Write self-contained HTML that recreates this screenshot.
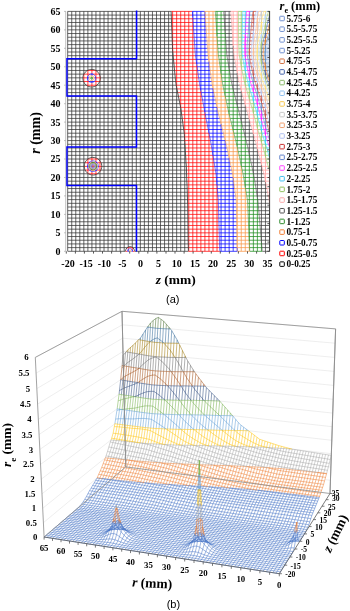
<!DOCTYPE html>
<html><head><meta charset="utf-8"><style>html,body{margin:0;padding:0;background:#fff;width:350px;height:611px;overflow:hidden}svg{display:block;filter:blur(0.35px)}</style></head>
<body><svg width="350" height="611" viewBox="0 0 350 611">
<g fill="none" stroke-width="0.75"><path stroke="#343434" d="M67.7 11.40H171.2M67.7 15.09H171.2M67.7 18.78H171.4M67.7 22.47H171.7M67.7 26.16H171.7M67.7 29.85H171.9M67.7 33.54H171.9M67.7 37.24H172.2M67.7 40.93H172.2M67.7 44.62H172.4M67.7 48.31H172.4M67.7 52.00H172.7M67.7 55.69H173.2M67.7 59.38H173.4M67.7 63.07H173.9M67.7 66.76H174.2M67.7 70.45H87.5M96.0 70.45H174.7M67.7 74.14H84.0M99.5 74.14H174.9M67.7 77.83H83.0M100.5 77.83H175.4M67.7 81.52H83.7M100.0 81.52H175.7M67.7 85.22H86.5M97.0 85.22H176.2M67.7 88.91H176.9M67.7 92.60H177.7M67.7 96.29H178.4M67.7 99.98H179.2M67.7 103.67H179.9M67.7 107.36H180.7M67.7 111.05H181.2M67.7 114.74H181.7M67.7 118.43H182.2M67.7 122.12H182.7M67.7 125.81H183.2M67.7 129.50H183.7M67.7 133.20H184.2M67.7 136.89H184.4M67.7 140.58H184.7M67.7 144.27H184.9M67.7 147.96H185.2M67.7 151.65H185.4M67.7 155.34H185.7M67.7 159.03H88.0M98.2 159.03H185.9M67.7 162.72H85.0M101.2 162.72H186.2M67.7 166.41H84.5M102.0 166.41H186.4M67.7 170.10H85.2M101.0 170.10H186.4M67.7 173.79H88.7M97.7 173.79H186.7M67.7 177.48H186.7M67.7 181.18H186.9M67.7 184.87H186.9M67.7 188.56H187.2M67.7 192.25H187.4M67.7 195.94H187.4M67.7 199.63H187.7M67.7 203.32H187.7M67.7 207.01H187.7M67.7 210.70H187.7M67.7 214.39H187.9M67.7 218.08H187.9M67.7 221.77H187.9M67.7 225.46H187.9M67.7 229.16H187.9M67.7 232.85H188.2M67.7 236.54H188.2M67.7 240.23H188.2M67.7 243.92H188.2M67.7 247.61H127.5M132.7 247.61H188.4M67.7 251.30H125.5M134.7 251.30H188.4M67.70 11.4V251.2M71.74 11.4V251.2M75.77 11.4V251.2M79.81 11.4V251.2M83.84 11.4V74.2M83.84 82.4V251.2M87.88 11.4V70.4M87.88 86.4V159.2M87.88 173.4V251.2M91.92 11.4V69.7M91.92 87.2V157.7M91.92 175.2V251.2M95.95 11.4V70.7M95.95 85.9V157.9M95.95 174.7V251.2M99.99 11.4V75.9M99.99 80.9V160.9M99.99 171.7V251.2M104.02 11.4V251.2M108.06 11.4V251.2M112.10 11.4V251.2M116.13 11.4V251.2M120.17 11.4V251.2M124.20 11.4V251.2M128.24 11.4V247.2M132.28 11.4V247.4M136.31 11.4V251.2M140.35 11.4V251.2M144.38 11.4V251.2M148.42 11.4V251.2M152.46 11.4V251.2M156.49 11.4V251.2M160.53 11.4V251.2M164.56 11.4V251.2M168.60 11.4V251.2M172.64 51.4V251.2M176.67 87.9V251.2M180.71 108.2V251.2M184.74 142.4V251.2"/><path stroke="#FF0000" d="M171.2 11.40H192.4M171.2 15.09H192.7M171.4 18.78H192.9M171.7 22.47H193.2M171.7 26.16H193.4M171.9 29.85H193.7M171.9 33.54H193.9M172.2 37.24H194.4M172.2 40.93H194.7M172.4 44.62H194.9M172.4 48.31H195.2M172.7 52.00H195.4M173.2 55.69H195.7M173.4 59.38H196.2M173.9 63.07H196.7M174.2 66.76H197.2M87.5 70.45H96.0M174.7 70.45H197.9M84.0 74.14H90.5M93.0 74.14H99.5M174.9 74.14H198.4M83.0 77.83H87.5M96.0 77.83H100.5M175.4 77.83H198.9M83.7 81.52H89.0M94.5 81.52H100.0M175.7 81.52H199.4M86.5 85.22H97.0M176.2 85.22H199.9M176.9 88.91H200.7M177.7 92.60H201.4M178.4 96.29H202.2M179.2 99.98H202.7M179.9 103.67H203.4M180.7 107.36H204.2M181.2 111.05H204.9M181.7 114.74H205.4M182.2 118.43H206.2M182.7 122.12H206.9M183.2 125.81H207.7M183.7 129.50H208.4M184.2 133.20H209.2M184.4 136.89H209.9M184.7 140.58H210.7M184.9 144.27H211.2M185.2 147.96H211.9M185.4 151.65H212.4M185.7 155.34H213.2M88.0 159.03H98.2M185.9 159.03H213.7M85.0 162.72H89.0M97.2 162.72H101.2M186.2 162.72H214.4M84.5 166.41H87.7M98.5 166.41H102.0M186.4 166.41H214.9M85.2 170.10H89.5M97.0 170.10H101.0M186.4 170.10H215.4M88.7 173.79H97.7M186.7 173.79H216.2M186.7 177.48H216.7M186.9 181.18H216.9M186.9 184.87H217.2M187.2 188.56H217.4M187.4 192.25H217.7M187.4 195.94H217.9M187.7 199.63H218.4M187.7 203.32H218.4M187.7 207.01H218.7M187.7 210.70H218.7M187.9 214.39H218.9M187.9 218.08H218.9M187.9 221.77H218.9M187.9 225.46H219.2M187.9 229.16H219.2M188.2 232.85H219.4M188.2 236.54H219.4M188.2 240.23H219.7M188.2 243.92H219.7M127.5 247.61H132.7M188.4 247.61H219.7M125.5 251.30H127.5M132.7 251.30H134.7M188.4 251.30H219.9M83.84 74.2V82.4M87.88 70.4V76.4M87.88 80.4V86.4M87.88 159.2V164.7M87.88 167.9V173.4M91.92 69.7V74.2M91.92 82.7V87.2M91.92 157.7V161.2M91.92 171.7V175.2M95.95 70.7V85.9M95.95 157.9V161.9M95.95 170.9V174.7M99.99 75.9V80.9M99.99 160.9V171.7M128.24 247.2V249.4M132.28 247.4V250.2M172.64 11.4V51.4M176.67 11.4V87.9M180.71 11.4V108.2M184.74 11.4V142.4M188.78 11.4V251.2M192.82 17.4V251.2M196.85 64.4V251.2M200.89 90.7V251.2M204.92 112.2V251.2M208.96 132.9V251.2M213.00 155.4V251.2M217.03 184.7V251.2"/><path stroke="#0000FF" d="M192.4 11.40H204.9M192.7 15.09H205.2M192.9 18.78H205.4M193.2 22.47H205.9M193.4 26.16H206.2M193.7 29.85H206.4M193.9 33.54H206.7M194.4 37.24H206.9M194.7 40.93H207.2M194.9 44.62H207.4M195.2 48.31H207.7M195.4 52.00H207.9M195.7 55.69H208.2M196.2 59.38H208.7M196.7 63.07H209.4M197.2 66.76H209.9M197.9 70.45H210.4M90.5 74.14H93.0M198.4 74.14H210.9M87.5 77.83H89.2M94.2 77.83H96.0M198.9 77.83H211.4M89.0 81.52H94.5M199.4 81.52H211.9M199.9 85.22H212.4M200.7 88.91H213.2M201.4 92.60H214.2M202.2 96.29H214.9M202.7 99.98H215.7M203.4 103.67H216.4M204.2 107.36H217.2M204.9 111.05H217.9M205.4 114.74H218.9M206.2 118.43H219.9M206.9 122.12H220.7M207.7 125.81H221.7M208.4 129.50H222.7M209.2 133.20H223.7M209.9 136.89H224.4M210.7 140.58H225.4M211.2 144.27H226.4M211.9 147.96H227.2M212.4 151.65H227.9M213.2 155.34H228.7M213.7 159.03H229.4M89.0 162.72H90.5M95.7 162.72H97.2M214.4 162.72H230.4M87.7 166.41H88.7M97.5 166.41H98.5M214.9 166.41H231.2M89.5 170.10H91.2M95.2 170.10H97.0M215.4 170.10H231.9M216.2 173.79H232.7M216.7 177.48H233.2M216.9 181.18H233.7M217.2 184.87H234.2M217.4 188.56H234.7M217.7 192.25H235.2M217.9 195.94H235.7M218.4 199.63H236.2M218.4 203.32H236.4M218.7 207.01H236.4M218.7 210.70H236.7M218.9 214.39H236.7M218.9 218.08H236.7M218.9 221.77H236.9M219.2 225.46H236.9M219.2 229.16H236.9M219.4 232.85H236.9M219.4 236.54H237.2M219.7 240.23H237.2M219.7 243.92H237.2M219.7 247.61H237.4M127.5 251.30H128.9M131.4 251.30H132.7M219.9 251.30H237.4M87.88 76.4V80.4M87.88 164.7V167.9M91.92 74.2V75.7M91.92 80.9V82.7M91.92 161.2V162.2M91.92 170.7V171.7M95.95 161.9V163.2M95.95 169.7V170.9M128.24 249.4V251.2M132.28 250.2V251.2M192.82 11.4V17.4M196.85 11.4V64.4M200.89 11.4V90.7M204.92 11.9V112.2M208.96 61.4V132.9M213.00 88.2V155.4M217.03 106.9V184.7M221.07 123.9V251.2M225.10 139.9V251.2M229.14 157.7V251.2M233.18 177.7V251.2M237.21 247.7V251.2"/><path stroke="#F79646" d="M204.9 11.40H215.4M205.2 15.09H215.7M205.4 18.78H215.9M205.9 22.47H216.2M206.2 26.16H216.4M206.4 29.85H216.7M206.7 33.54H216.9M206.9 37.24H217.2M207.2 40.93H217.4M207.4 44.62H217.7M207.7 48.31H217.9M207.9 52.00H218.2M208.2 55.69H218.7M208.7 59.38H219.2M209.4 63.07H219.7M209.9 66.76H220.2M210.4 70.45H220.7M210.9 74.14H221.2M89.2 77.83H90.7M92.7 77.83H94.2M211.4 77.83H221.7M211.9 81.52H222.4M212.4 85.22H222.9M213.2 88.91H223.7M214.2 92.60H224.7M214.9 96.29H225.4M215.7 99.98H226.2M216.4 103.67H226.9M217.2 107.36H227.7M217.9 111.05H228.4M218.9 114.74H229.4M219.9 118.43H230.4M220.7 122.12H231.2M221.7 125.81H232.2M222.7 129.50H233.2M223.7 133.20H233.9M224.4 136.89H234.9M225.4 140.58H235.9M226.4 144.27H236.7M227.2 147.96H237.7M227.9 151.65H238.4M228.7 155.34H239.2M229.4 159.03H239.9M90.5 162.72H91.7M94.7 162.72H95.7M230.4 162.72H240.7M88.7 166.41H89.5M97.0 166.41H97.5M231.2 166.41H241.4M91.2 170.10H95.2M231.9 170.10H242.2M232.7 173.79H243.2M233.2 177.48H243.7M233.7 181.18H244.4M234.2 184.87H244.9M234.7 188.56H245.7M235.2 192.25H246.2M235.7 195.94H246.9M236.2 199.63H247.4M236.4 203.32H247.7M236.4 207.01H247.9M236.7 210.70H248.2M236.7 214.39H248.2M236.7 218.08H248.4M236.9 221.77H248.7M236.9 225.46H248.7M236.9 229.16H248.9M236.9 232.85H248.9M237.2 236.54H249.2M237.2 240.23H249.4M237.2 243.92H249.4M237.4 247.61H249.7M128.9 251.30H131.4M237.4 251.30H249.9M91.92 75.7V77.4M91.92 79.4V80.9M91.92 162.2V162.7M91.92 169.9V170.7M95.95 163.2V163.9M95.95 168.7V169.7M204.92 11.4V11.9M208.96 11.4V61.4M213.00 11.4V88.2M217.03 36.4V106.9M221.07 73.7V123.9M225.10 95.7V139.9M229.14 114.2V157.7M233.18 130.4V177.7M237.21 146.7V247.7M241.25 165.9V251.2M245.28 187.4V251.2M249.32 241.4V251.2"/><path stroke="#1E8C1E" d="M215.4 11.40H223.7M215.7 15.09H224.2M215.9 18.78H224.4M216.2 22.47H224.7M216.4 26.16H224.9M216.7 29.85H225.2M216.9 33.54H225.4M217.2 37.24H225.7M217.4 40.93H225.9M217.7 44.62H226.2M217.9 48.31H226.4M218.2 52.00H226.7M218.7 55.69H226.9M219.2 59.38H227.7M219.7 63.07H228.4M220.2 66.76H228.9M220.7 70.45H229.7M221.2 74.14H230.2M90.7 77.83H92.7M221.7 77.83H230.9M222.4 81.52H231.4M222.9 85.22H232.2M223.7 88.91H233.2M224.7 92.60H234.2M225.4 96.29H235.2M226.2 99.98H235.9M226.9 103.67H236.9M227.7 107.36H237.9M228.4 111.05H238.9M229.4 114.74H239.9M230.4 118.43H240.7M231.2 122.12H241.7M232.2 125.81H242.7M233.2 129.50H243.4M233.9 133.20H244.4M234.9 136.89H245.4M235.9 140.58H246.2M236.7 144.27H247.2M237.7 147.96H247.9M238.4 151.65H248.9M239.2 155.34H249.7M239.9 159.03H250.4M91.7 162.72H94.7M240.7 162.72H251.2M89.5 166.41H90.0M96.5 166.41H97.0M241.4 166.41H251.9M242.2 170.10H252.7M243.2 173.79H253.7M243.7 177.48H254.2M244.4 181.18H254.9M244.9 184.87H255.4M245.7 188.56H256.2M246.2 192.25H256.7M246.9 195.94H257.2M247.4 199.63H257.9M247.7 203.32H258.2M247.9 207.01H258.7M248.2 210.70H258.9M248.2 214.39H259.2M248.4 218.08H259.4M248.7 221.77H259.9M248.7 225.46H260.2M248.9 229.16H260.4M248.9 232.85H260.7M249.2 236.54H261.2M249.4 240.23H261.4M249.4 243.92H261.7M249.7 247.61H261.9M249.9 251.30H262.4M91.92 77.4V79.4M91.92 162.7V163.2M91.92 169.4V169.9M95.95 163.9V164.9M95.95 167.9V168.7M217.03 11.4V36.4M221.07 11.4V73.7M225.10 31.6V95.7M229.14 68.7V114.2M233.18 89.4V130.4M237.21 105.2V146.7M241.25 121.2V165.9M245.28 137.2V187.4M249.32 154.7V241.4M253.36 173.4V251.2M257.39 197.4V251.2M261.43 241.9V251.2"/><path stroke="#3C3C3C" d="M223.7 11.40H230.9M224.2 15.09H231.2M224.4 18.78H231.4M224.7 22.47H231.7M224.9 26.16H231.9M225.2 29.85H232.2M225.4 33.54H232.4M225.7 37.24H232.7M225.9 40.93H232.9M226.2 44.62H233.2M226.4 48.31H233.4M226.7 52.00H233.7M226.9 55.69H234.2M227.7 59.38H234.9M228.4 63.07H235.4M228.9 66.76H236.2M229.7 70.45H236.9M230.2 74.14H237.7M230.9 77.83H238.2M231.4 81.52H238.9M232.2 85.22H239.7M233.2 88.91H240.9M234.2 92.60H241.9M235.2 96.29H242.9M235.9 99.98H243.9M236.9 103.67H244.9M237.9 107.36H246.2M238.9 111.05H247.2M239.9 114.74H248.2M240.7 118.43H249.2M241.7 122.12H250.2M242.7 125.81H251.2M243.4 129.50H252.2M244.4 133.20H253.2M245.4 136.89H254.2M246.2 140.58H255.4M247.2 144.27H256.4M247.9 147.96H257.2M248.9 151.65H258.2M249.7 155.34H259.2M250.4 159.03H260.2M251.2 162.72H261.2M90.0 166.41H90.2M96.0 166.41H96.5M251.9 166.41H261.9M252.7 170.10H262.9M253.7 173.79H263.9M254.2 177.48H264.7M254.9 181.18H265.4M255.4 184.87H266.2M256.2 188.56H266.9M256.7 192.25H267.7M257.2 195.94H268.4M257.9 199.63H269.2M258.2 203.32H269.4M258.7 207.01H269.4M258.9 210.70H269.4M259.2 214.39H269.4M259.4 218.08H269.4M259.9 221.77H269.4M260.2 225.46H269.4M260.4 229.16H269.4M260.7 232.85H269.4M261.2 236.54H269.4M261.4 240.23H269.4M261.7 243.92H269.4M261.9 247.61H269.4M262.4 251.30H269.4M91.92 163.2V163.7M91.92 168.9V169.4M95.95 164.9V167.9M225.10 11.4V31.6M229.14 11.4V68.7M233.18 45.9V89.4M237.21 72.9V105.2M241.25 90.9V121.2M245.28 105.2V137.2M249.32 119.4V154.7M253.36 133.9V173.4M257.39 148.9V197.4M261.43 164.7V241.9M265.46 181.9V251.2M269.50 206.2V251.2"/><path stroke="#FF9999" d="M230.9 11.40H238.4M231.2 15.09H238.4M231.4 18.78H238.4M231.7 22.47H238.4M231.9 26.16H238.7M232.2 29.85H238.7M232.4 33.54H238.7M232.7 37.24H238.7M232.9 40.93H238.7M233.2 44.62H238.9M233.4 48.31H238.9M233.7 52.00H239.2M234.2 55.69H239.4M234.9 59.38H240.2M235.4 63.07H240.7M236.2 66.76H241.4M236.9 70.45H242.2M237.7 74.14H242.9M238.2 77.83H243.7M238.9 81.52H244.4M239.7 85.22H245.4M240.9 88.91H246.4M241.9 92.60H247.7M242.9 96.29H248.7M243.9 99.98H249.7M244.9 103.67H250.9M246.2 107.36H251.9M247.2 111.05H252.9M248.2 114.74H253.9M249.2 118.43H254.9M250.2 122.12H255.9M251.2 125.81H256.9M252.2 129.50H257.9M253.2 133.20H258.9M254.2 136.89H259.9M255.4 140.58H260.9M256.4 144.27H262.2M257.2 147.96H263.4M258.2 151.65H264.4M259.2 155.34H265.2M260.2 159.03H266.2M261.2 162.72H267.2M90.2 166.41H90.7M95.7 166.41H96.0M261.9 166.41H268.4M262.9 170.10H269.4M263.9 173.79H269.4M264.7 177.48H269.4M265.4 181.18H269.4M266.2 184.87H269.4M266.9 188.56H269.4M267.7 192.25H269.4M268.4 195.94H269.4M269.2 199.63H269.4M269.4 203.32H269.4M91.92 163.7V164.2M91.92 168.7V168.9M233.18 11.4V45.9M237.21 11.4V72.9M241.25 66.4V90.9M245.28 85.2V105.2M249.32 98.9V119.4M253.36 113.2V133.9M257.39 128.2V148.9M261.43 142.4V164.7M265.46 156.7V181.9M269.50 170.2V206.2"/><path stroke="#8CC45A" d="M238.4 11.40H242.9M238.4 15.09H242.7M238.4 18.78H242.7M238.4 22.47H242.4M238.7 26.16H242.4M238.7 29.85H242.4M238.7 33.54H242.4M238.7 37.24H242.2M238.7 40.93H242.2M238.9 44.62H242.2M238.9 48.31H242.2M239.2 52.00H242.2M239.4 55.69H242.4M240.2 59.38H243.2M240.7 63.07H243.7M241.4 66.76H244.4M242.2 70.45H245.2M242.9 74.14H245.9M243.7 77.83H246.7M244.4 81.52H247.7M245.4 85.22H248.7M246.4 88.91H249.9M247.7 92.60H250.9M248.7 96.29H252.2M249.7 99.98H253.2M250.9 103.67H254.2M251.9 107.36H255.2M252.9 111.05H256.4M253.9 114.74H257.2M254.9 118.43H258.2M255.9 122.12H259.2M256.9 125.81H260.2M257.9 129.50H261.2M258.9 133.20H262.2M259.9 136.89H263.2M260.9 140.58H264.4M262.2 144.27H265.7M263.4 147.96H266.9M264.4 151.65H267.9M265.2 155.34H268.9M266.2 159.03H269.4M267.2 162.72H269.4M90.7 166.41H91.0M95.2 166.41H95.7M268.4 166.41H269.4M91.92 164.2V164.4M91.92 168.2V168.7M241.25 11.4V66.4M245.28 71.4V85.2M249.32 87.4V98.9M253.36 101.2V113.2M257.39 115.7V128.2M261.43 130.9V142.4M265.46 144.2V156.7M269.50 158.4V170.2"/><path stroke="#1EC8F0" d="M242.9 11.40H246.7M242.7 15.09H246.4M242.7 18.78H246.2M242.4 22.47H245.9M242.4 26.16H245.7M242.4 29.85H245.7M242.4 33.54H245.4M242.2 37.24H245.2M242.2 40.93H244.9M242.2 44.62H244.9M242.2 48.31H244.9M242.2 52.00H244.9M242.4 55.69H245.2M243.2 59.38H245.7M243.7 63.07H246.4M244.4 66.76H246.9M245.2 70.45H247.7M245.9 74.14H248.7M246.7 77.83H249.4M247.7 81.52H250.4M248.7 85.22H251.4M249.9 88.91H252.7M250.9 92.60H253.7M252.2 96.29H254.9M253.2 99.98H255.9M254.2 103.67H257.2M255.2 107.36H258.2M256.4 111.05H259.2M257.2 114.74H260.2M258.2 118.43H260.9M259.2 122.12H261.9M260.2 125.81H262.9M261.2 129.50H263.9M262.2 133.20H264.9M263.2 136.89H266.2M264.4 140.58H267.2M265.7 144.27H268.4M266.9 147.96H269.4M267.9 151.65H269.4M268.9 155.34H269.4M91.0 166.41H91.5M95.0 166.41H95.2M91.92 164.4V164.9M91.92 167.7V168.2M245.28 11.4V35.1M245.28 57.4V71.4M249.32 77.9V87.4M253.36 91.7V101.2M257.39 105.2V115.7M261.43 120.4V130.9M265.46 135.4V144.2M269.50 147.4V158.4"/><path stroke="#FF00FF" d="M246.7 11.40H250.2M246.4 15.09H249.7M246.2 18.78H249.2M245.9 22.47H248.9M245.7 26.16H248.7M245.7 29.85H248.4M245.4 33.54H248.2M245.2 37.24H247.9M244.9 40.93H247.7M244.9 44.62H247.4M244.9 48.31H247.2M244.9 52.00H247.2M245.2 55.69H247.4M245.7 59.38H247.9M246.4 63.07H248.7M246.9 66.76H249.4M247.7 70.45H250.2M248.7 74.14H250.9M249.4 77.83H251.7M250.4 81.52H252.9M251.4 85.22H253.9M252.7 88.91H255.2M253.7 92.60H256.4M254.9 96.29H257.4M255.9 99.98H258.7M257.2 103.67H259.7M258.2 107.36H260.7M259.2 111.05H261.7M260.2 114.74H262.7M260.9 118.43H263.4M261.9 122.12H264.4M262.9 125.81H265.4M263.9 129.50H266.4M264.9 133.20H267.4M266.2 136.89H268.7M267.2 140.58H269.4M268.4 144.27H269.4M91.5 166.41H91.7M94.5 166.41H95.0M91.92 164.9V165.4M91.92 167.2V167.7M245.28 35.1V57.4M249.32 11.4V16.9M249.32 67.4V77.9M253.36 83.9V91.7M257.39 96.4V105.2M261.43 110.4V120.4M265.46 126.7V135.4M269.50 140.2V147.4"/><path stroke="#4F81BD" d="M250.2 11.40H253.2M249.7 15.09H252.7M249.2 18.78H252.2M248.9 22.47H251.7M248.7 26.16H251.4M248.4 29.85H251.2M248.2 33.54H250.9M247.9 37.24H250.4M247.7 40.93H249.9M247.4 44.62H249.7M247.2 48.31H249.4M247.2 52.00H249.4M247.4 55.69H249.7M247.9 59.38H250.2M248.7 63.07H250.7M249.4 66.76H251.4M250.2 70.45H252.2M250.9 74.14H253.2M251.7 77.83H253.9M252.9 81.52H254.9M253.9 85.22H256.2M255.2 88.91H257.4M256.4 92.60H258.7M257.4 96.29H259.9M258.7 99.98H260.9M259.7 103.67H261.9M260.7 107.36H262.9M261.7 111.05H263.9M262.7 114.74H264.9M263.4 118.43H265.9M264.4 122.12H266.7M265.4 125.81H267.7M266.4 129.50H268.7M267.4 133.20H269.4M268.7 136.89H269.4M91.7 166.41H92.2M94.0 166.41H94.5M91.92 165.4V167.2M249.32 16.9V48.9M249.32 54.9V67.4M253.36 75.9V83.9M257.39 89.2V96.4M261.43 102.4V110.4M265.46 117.4V126.7M269.50 132.9V140.2"/><path stroke="#C0392B" d="M253.2 11.40H256.2M252.7 15.09H255.4M252.2 18.78H254.9M251.7 22.47H254.4M251.4 26.16H253.9M251.2 29.85H253.7M250.9 33.54H253.2M250.4 37.24H252.7M249.9 40.93H252.2M249.7 44.62H251.7M249.4 48.31H251.4M249.4 52.00H251.4M249.7 55.69H251.7M250.2 59.38H252.2M250.7 63.07H252.7M251.4 66.76H253.4M252.2 70.45H254.2M253.2 74.14H255.2M253.9 77.83H255.9M254.9 81.52H257.2M256.2 85.22H258.4M257.4 88.91H259.7M258.7 92.60H260.7M259.9 96.29H261.9M260.9 99.98H263.2M261.9 103.67H264.2M262.9 107.36H265.2M263.9 111.05H266.2M264.9 114.74H267.2M265.9 118.43H267.9M266.7 122.12H268.9M267.7 125.81H269.4M268.7 129.50H269.4M92.2 166.41H94.0M249.32 48.9V54.9M253.36 11.4V30.9M253.36 67.2V75.9M257.39 82.9V89.2M261.43 94.9V102.4M265.46 108.7V117.4M269.50 125.2V132.9"/><path stroke="#A8B8E8" d="M256.2 11.40H258.9M255.4 15.09H257.9M254.9 18.78H257.4M254.4 22.47H256.9M253.9 26.16H256.4M253.7 29.85H255.9M253.2 33.54H255.4M252.7 37.24H254.7M252.2 40.93H254.2M251.7 44.62H253.7M251.4 48.31H253.4M251.4 52.00H253.2M251.7 55.69H253.4M252.2 59.38H253.9M252.7 63.07H254.7M253.4 66.76H255.2M254.2 70.45H255.9M255.2 74.14H256.9M255.9 77.83H257.9M257.2 81.52H259.2M258.4 85.22H260.4M259.7 88.91H261.7M260.7 92.60H262.9M261.9 96.29H264.2M263.2 99.98H265.2M264.2 103.67H266.2M265.2 107.36H267.4M266.2 111.05H268.2M267.2 114.74H269.2M267.9 118.43H269.4M268.9 122.12H269.4M253.36 30.9V48.1M253.36 55.9V67.2M257.39 11.4V17.9M257.39 76.4V82.9M261.43 88.7V94.9M265.46 101.7V108.7M269.50 116.7V125.2"/><path stroke="#FAB080" d="M258.9 11.40H261.4M257.9 15.09H260.4M257.4 18.78H259.7M256.9 22.47H259.2M256.4 26.16H258.7M255.9 29.85H258.2M255.4 33.54H257.7M254.7 37.24H256.9M254.2 40.93H256.2M253.7 44.62H255.7M253.4 48.31H255.4M253.2 52.00H255.2M253.4 55.69H255.2M253.9 59.38H255.7M254.7 63.07H256.4M255.2 66.76H257.2M255.9 70.45H257.9M256.9 74.14H258.7M257.9 77.83H259.7M259.2 81.52H260.9M260.4 85.22H262.2M261.7 88.91H263.7M262.9 92.60H264.7M264.2 96.29H265.9M265.2 99.98H267.2M266.2 103.67H268.2M267.4 107.36H269.2M268.2 111.05H269.4M269.2 114.74H269.4M253.36 48.1V55.9M257.39 17.9V34.1M257.39 69.2V76.4M261.43 83.4V88.7M265.46 95.2V101.7M269.50 108.7V116.7"/><path stroke="#C0C0C0" d="M261.4 11.40H263.9M260.4 15.09H262.9M259.7 18.78H262.2M259.2 22.47H261.4M258.7 26.16H260.9M258.2 29.85H260.2M257.7 33.54H259.7M256.9 37.24H258.7M256.2 40.93H257.9M255.7 44.62H257.4M255.4 48.31H257.2M255.2 52.00H256.9M255.2 55.69H256.9M255.7 59.38H257.4M256.4 63.07H258.2M257.2 66.76H258.7M257.9 70.45H259.4M258.7 74.14H260.4M259.7 77.83H261.4M260.9 81.52H262.7M262.2 85.22H264.2M263.7 88.91H265.4M264.7 92.60H266.7M265.9 96.29H267.9M267.2 99.98H268.9M268.2 103.67H269.4M269.2 107.36H269.4M257.39 34.1V44.6M257.39 59.9V69.2M261.43 11.4V22.1M261.43 77.9V83.4M265.46 89.4V95.2M269.50 102.2V108.7"/><path stroke="#FFD966" d="M263.9 11.40H266.4M262.9 15.09H265.2M262.2 18.78H264.4M261.4 22.47H263.7M260.9 26.16H262.9M260.2 29.85H262.2M259.7 33.54H261.7M258.7 37.24H260.7M257.9 40.93H259.9M257.4 44.62H259.2M257.2 48.31H258.9M256.9 52.00H258.4M256.9 55.69H258.7M257.4 59.38H259.2M258.2 63.07H259.7M258.7 66.76H260.4M259.4 70.45H261.2M260.4 74.14H262.2M261.4 77.83H263.2M262.7 81.52H264.4M264.2 85.22H265.9M265.4 88.91H267.2M266.7 92.60H268.4M267.9 96.29H269.4M268.9 99.98H269.4M257.39 44.6V59.9M261.43 22.1V34.1M261.43 71.9V77.9M265.46 11.4V14.2M265.46 84.4V89.4M269.50 96.2V102.2"/><path stroke="#A6CAF0" d="M266.4 11.40H268.7M265.2 15.09H267.4M264.4 18.78H266.4M263.7 22.47H265.7M262.9 26.16H264.9M262.2 29.85H264.2M261.7 33.54H263.4M260.7 37.24H262.4M259.9 40.93H261.7M259.2 44.62H260.9M258.9 48.31H260.4M258.4 52.00H260.2M258.7 55.69H260.2M259.2 59.38H260.7M259.7 63.07H261.2M260.4 66.76H261.9M261.2 70.45H262.7M262.2 74.14H263.7M263.2 77.83H264.9M264.4 81.52H266.2M265.9 85.22H267.7M267.2 88.91H268.9M268.4 92.60H269.4M261.43 34.1V41.6M261.43 64.4V71.9M265.46 14.2V23.4M265.46 79.9V84.4M269.50 90.9V96.2"/><path stroke="#9BBB59" d="M268.7 11.40H269.4M267.4 15.09H269.4M266.4 18.78H268.7M265.7 22.47H267.7M264.9 26.16H266.9M264.2 29.85H266.2M263.4 33.54H265.4M262.4 37.24H264.4M261.7 40.93H263.4M260.9 44.62H262.7M260.4 48.31H262.2M260.2 52.00H261.7M260.2 55.69H261.7M260.7 59.38H262.2M261.2 63.07H262.9M261.9 66.76H263.4M262.7 70.45H264.2M263.7 74.14H265.4M264.9 77.83H266.4M266.2 81.52H267.7M267.7 85.22H269.2M268.9 88.91H269.4M261.43 41.6V64.4M265.46 23.4V32.9M265.46 75.2V79.9M269.50 11.4V15.4M269.50 86.2V90.9"/><path stroke="#2F4F9F" d="M268.7 18.78H269.4M267.7 22.47H269.4M266.9 26.16H268.9M266.2 29.85H267.9M265.4 33.54H267.2M264.4 37.24H265.9M263.4 40.93H264.9M262.7 44.62H264.2M262.2 48.31H263.7M261.7 52.00H263.2M261.7 55.69H263.2M262.2 59.38H263.7M262.9 63.07H264.4M263.4 66.76H264.9M264.2 70.45H265.9M265.4 74.14H266.9M266.4 77.83H267.9M267.7 81.52H269.4M269.2 85.22H269.4M265.46 32.9V38.9M265.46 69.7V75.2M269.50 15.4V23.1M269.50 82.2V86.2"/><path stroke="#E46C0A" d="M268.9 26.16H269.4M267.9 29.85H269.4M267.2 33.54H268.9M265.9 37.24H267.7M264.9 40.93H266.7M264.2 44.62H265.7M263.7 48.31H265.2M263.2 52.00H264.7M263.2 55.69H264.7M263.7 59.38H265.2M264.4 63.07H265.7M264.9 66.76H266.4M265.9 70.45H267.2M266.9 74.14H268.4M267.9 77.83H269.4M269.4 81.52H269.4M265.46 38.9V45.6M265.46 62.1V69.7M269.50 23.1V30.9M269.50 78.2V82.2"/><path stroke="#4F81BD" d="M268.9 33.54H269.4M267.7 37.24H269.4M266.7 40.93H268.2M265.7 44.62H267.4M265.2 48.31H266.7M264.7 52.00H266.2M264.7 55.69H266.2M265.2 59.38H266.7M265.7 63.07H267.2M266.4 66.76H267.9M267.2 70.45H268.7M268.4 74.14H269.4M269.4 77.83H269.4M265.46 45.6V62.1M269.50 30.9V36.6M269.50 73.7V78.2"/><path stroke="#95B3D7" d="M269.4 37.24H269.4M268.2 40.93H269.4M267.4 44.62H268.9M266.7 48.31H268.2M266.2 52.00H267.7M266.2 55.69H267.7M266.7 59.38H267.9M267.2 63.07H268.7M267.9 66.76H269.4M268.7 70.45H269.4M269.50 36.6V41.6M269.50 68.4V73.7"/><path stroke="#8EA9DB" d="M268.9 44.62H269.4M268.2 48.31H269.4M267.7 52.00H268.9M267.7 55.69H268.9M267.9 59.38H269.4M268.7 63.07H269.4M269.4 66.76H269.4M269.50 41.6V48.1M269.50 61.4V68.4"/><path stroke="#7F9FCF" d="M268.9 52.00H269.4M268.9 55.69H269.4M269.4 59.38H269.4M269.50 48.1V61.4"/></g><g fill="none" stroke-width="0.5"><path stroke="#343434" stroke-width="0.8" d="M171.1 11.4L172.6 49.9 175.5 80.4 176.2 85.4 180.9 108.7 184.3 133.9 186.0 162.1 186.4 166.8 186.7 178.1 187.1 186.4 187.7 206.0 188.1 239.0 188.4 250.8M90.8 69.4L89.4 69.7 88.0 70.2 86.6 71.0 85.1 72.3 84.1 73.7 83.4 75.1 83.0 76.5 82.9 78.6 83.2 80.7 83.8 82.1 84.6 83.5 85.9 84.9 87.3 85.9 88.7 86.5 90.1 86.9 92.2 87.0 94.3 86.6 95.7 86.0 97.1 85.0 98.5 83.6 99.4 82.1 100.0 80.7 100.3 79.3 100.3 77.2 99.9 75.4 99.2 73.8 98.1 72.3 97.1 71.4 95.7 70.4 94.3 69.8 92.9 69.5 90.8 69.4M90.8 157.7L89.4 158.2 87.8 159.1 86.3 160.5 85.3 161.9 84.7 163.3 84.4 164.7 84.2 166.8 84.5 168.2 84.9 169.6 85.9 171.4 87.3 172.9 88.5 173.8 90.1 174.5 91.5 174.9 93.6 175.0 95.0 174.8 96.4 174.3 97.8 173.6 99.2 172.4 100.4 171.0 101.1 169.6 101.7 167.5 101.7 165.4 101.5 164.0 101.0 162.6 100.2 161.2 99.2 160.0 97.8 158.8 96.4 158.1 94.3 157.5 92.2 157.4 90.8 157.7M97.1 158.4L97.1 158.4M134.6 250.8L134.1 249.4 133.2 248.0 132.1 247.2 131.4 246.9 130.0 246.7 128.6 246.9 127.9 247.2 126.8 248.0 125.9 249.4 125.4 250.8"/><path stroke="#0000FF" d="M192.4 11.4L195.3 54.1 199.5 83.5 205.9 117.8 210.5 140.5 216.1 174.5 218.3 200.4 219.7 250.8M90.1 74.2L88.7 75.1 87.7 76.5 87.4 77.9 87.5 79.3 88.2 80.7 89.4 81.9 90.8 82.4 92.2 82.4 92.9 82.3 94.3 81.5 95.5 80.0 95.8 78.6 95.8 77.9 95.5 76.5 94.5 75.1 92.9 74.1 91.5 73.9 90.1 74.2M91.5 161.0L90.1 161.6 89.0 162.6 88.4 163.3 87.6 165.4 87.8 167.5 88.3 168.9 88.7 169.4 90.1 170.8 91.5 171.4 92.2 171.6 94.3 171.5 95.7 170.9 96.4 170.4 97.7 168.9 98.2 167.5 98.4 166.8 98.2 164.7 97.6 163.3 97.1 162.7 95.7 161.5 93.6 160.8 92.2 160.8 91.5 161.0M95.0 161.2L95.0 161.2M132.6 250.8L132.3 250.1 131.8 249.4 130.7 248.8 130.0 248.7 129.3 248.8 128.2 249.4 127.7 250.1 127.4 250.8"/><path stroke="#F79646" d="M204.9 11.4L208.0 54.1 212.0 83.5 218.3 112.9 226.6 145.7 230.8 165.5 232.9 175.5 235.7 196.1 236.3 200.4 236.4 205.3 237.2 250.8M90.8 75.7L90.1 76.1 89.4 76.9 89.0 77.9 89.1 78.6 89.4 79.5 90.1 80.3 90.8 80.7 91.5 80.8 92.2 80.7 92.9 80.4 93.4 80.0 93.9 79.3 94.1 78.6 94.0 77.2 93.5 76.5 92.9 76.0 92.2 75.7 91.5 75.6 90.8 75.7M92.2 161.9L90.8 162.4 90.1 162.9 89.4 163.7 88.9 164.7 88.6 166.1 88.7 166.8 89.1 168.2 90.2 169.6 90.8 170.0 92.2 170.6 93.6 170.6 95.0 170.1 96.5 168.9 97.2 167.5 97.4 166.8 97.3 165.4 96.8 164.0 95.7 162.7 94.3 162.0 92.9 161.8 92.2 161.9M131.1 250.8L130.7 250.4 130.0 250.1 129.3 250.4 128.9 250.8"/><path stroke="#1E8C1E" d="M215.3 11.4L218.3 54.1 222.5 83.5 228.8 112.9 237.2 146.5 243.3 175.2 247.5 200.4 249.7 250.8M91.5 77.1L90.8 77.6 90.6 77.9 90.6 78.6 91.5 79.2 92.2 79.0 92.5 78.6 92.6 77.9 92.2 77.4 91.5 77.1M92.2 162.5L90.8 163.1 89.9 164.0 89.3 165.4 89.3 166.8 89.8 168.2 90.8 169.3 92.2 169.9 93.6 170.0 95.0 169.4 96.2 168.2 96.7 166.8 96.7 165.4 96.1 164.0 95.0 163.0 93.6 162.4 92.2 162.5"/><path stroke="#3C3C3C" d="M223.7 11.4L226.8 54.8 231.7 83.5 239.2 112.7 247.6 146.5 253.8 175.2 257.9 200.4 262.2 250.8M91.5 163.2L90.5 164.0 89.8 165.4 89.7 166.8 90.0 167.5 90.8 168.7 91.5 169.2 92.9 169.5 94.3 169.3 95.0 168.8 95.6 168.2 96.0 167.5 96.3 166.1 95.9 164.7 95.0 163.6 94.3 163.1 92.9 162.9 91.5 163.2"/><path stroke="#FF9999" d="M230.8 11.4L230.8 12.8 231.3 16.3 231.5 22.6 232.0 26.1 232.2 31.8 232.7 35.9 232.9 41.5 233.4 46.4 233.7 52.0 234.3 56.9 234.8 59.0 235.0 60.5 235.6 63.2 235.7 64.6 236.3 66.7 236.4 68.2 236.9 70.2 237.2 72.3 237.5 73.7 237.8 75.8 238.3 77.9 239.2 82.8M239.5 84.2L240.4 87.0 240.6 88.4 241.2 89.8 242.0 93.3 242.6 94.7 243.4 98.2 243.9 99.6 244.8 103.1 245.3 104.5 246.2 108.0 246.7 109.4 247.6 112.9 248.1 114.3 248.4 115.7 249.5 119.2 249.7 120.6 250.2 122.0 250.5 123.4 251.6 126.9 251.8 128.3 252.3 129.7 254.0 136.0 255.1 139.5 255.3 140.9 255.8 142.3 257.2 147.2 257.4 148.6 257.9 150.0 258.1 151.4 258.6 152.8 258.8 154.2 259.3 155.6 259.5 157.0 260.0 158.4 260.2 159.8 260.7 161.2 261.0 162.6 261.4 164.0 261.7 165.4 263.4 171.7 264.3 175.2 267.7 192.7 268.6 197.3 269.3 202.3M92.9 163.3L94.3 163.6 95.0 164.1 95.5 164.7 95.9 166.1 95.6 167.5 95.1 168.2 94.3 168.8 93.6 169.1 92.2 169.0 91.5 168.7 90.8 168.1 90.2 166.8 90.2 165.4 90.8 164.3 91.5 163.7 92.9 163.3"/><path stroke="#8CC45A" d="M238.4 11.4L238.6 40.8 239.1 54.1 241.8 69.5 244.8 83.5 252.4 109.4 259.2 134.6 263.4 148.6 266.9 161.9 269.3 169.6M92.2 163.8L91.5 164.2 90.8 165.0 90.5 166.1 90.5 166.8 90.8 167.5 91.5 168.2 92.2 168.6 92.9 168.7 93.6 168.7 94.5 168.2 95.2 167.5 95.4 166.8 95.4 165.4 95.0 164.7 94.3 164.0 93.6 163.7 92.9 163.7 92.2 163.8"/><path stroke="#1EC8F0" d="M242.9 11.4L242.5 17.7 242.0 46.4 242.2 54.1 243.3 61.1 245.0 70.2 248.1 83.5 252.5 98.0 255.8 109.4 261.9 132.5 264.6 141.6 267.0 148.6 269.3 157.5M91.5 164.6L91.0 165.4 90.8 166.1 90.9 166.8 91.3 167.5 92.2 168.2 92.9 168.4 93.6 168.3 94.3 167.9 95.0 167.0 95.2 166.1 95.0 165.4 94.5 164.7 93.6 164.1 92.9 164.0 92.2 164.2 91.5 164.6M95.0 165.4L95.0 165.4"/><path stroke="#FF00FF" d="M246.6 11.4L246.1 17.7 244.7 46.4 244.8 54.1 245.9 61.1 247.8 70.9 249.3 77.9 250.8 83.5 255.2 97.5 258.6 109.4 262.6 124.8 265.5 135.3 267.5 141.6 269.3 146.7M92.2 164.6L91.4 165.4 91.2 166.1 91.3 166.8 91.8 167.5 92.2 167.8 92.9 168.0 93.6 167.9 94.2 167.5 94.7 166.8 94.8 166.1 94.6 165.4 94.3 165.0 93.6 164.5 92.9 164.4 92.2 164.6"/><path stroke="#4F81BD" d="M250.0 11.4L249.2 17.7 248.2 33.1 247.4 41.5 247.1 46.4 247.1 53.4 247.2 54.8 248.2 61.1 249.8 69.5 251.7 77.9 253.3 83.5 257.8 97.5 261.0 108.7 265.2 125.5 269.3 139.5M92.2 165.1L91.9 165.4 91.6 166.1 91.8 166.8 92.2 167.3 92.6 167.5 92.9 167.6 93.6 167.5 94.3 166.8 94.4 166.1 94.1 165.4 93.6 164.9 92.9 164.8 92.2 165.1"/><path stroke="#C0392B" d="M253.1 11.4L252.1 17.7 250.7 33.1 249.8 41.5 249.4 46.4 249.2 53.4 249.3 54.8 250.3 61.1 251.9 69.5 253.9 77.9 255.5 83.5 257.0 87.7 260.1 97.5 263.3 108.7 267.3 124.8 269.3 132.0M92.9 165.3L92.6 165.4 92.1 166.1 92.3 166.8 92.9 167.1 93.6 166.9 93.9 166.1 93.6 165.5 92.9 165.3"/><path stroke="#A8B8E8" d="M256.0 11.4L254.8 17.7 253.1 33.1 252.1 40.1 251.5 46.4 251.2 54.1 252.3 61.1 253.8 69.5 255.7 77.2 257.6 83.5 259.2 87.7 262.3 97.5 265.5 108.7 269.3 124.3M253.2 32.4L253.2 32.4"/><path stroke="#FAB080" d="M258.7 11.4L257.4 17.7 255.3 33.7 254.2 40.1 253.4 46.4 253.1 54.1 254.1 61.1 255.7 69.5 257.5 76.5 259.2 82.1 261.2 87.7 264.3 97.5 267.8 109.4 269.3 115.8"/><path stroke="#C0C0C0" d="M261.3 11.4L259.8 17.7 257.4 33.8 256.2 40.1 255.3 46.4 254.9 54.1 255.9 61.1 257.5 69.5 259.1 75.8 260.6 80.7 263.1 87.7 266.3 97.5 269.3 107.8M259.5 19.8L259.5 19.8"/><path stroke="#FFD966" d="M263.8 11.4L262.2 17.7 259.6 33.1 258.1 40.1 257.1 46.4 256.6 54.1 257.7 61.8 259.2 69.5 260.1 73.0 261.4 77.9 265.0 87.7 268.2 97.5 269.3 101.3"/><path stroke="#A6CAF0" d="M266.3 11.4L264.4 17.7 261.6 33.1 259.9 40.1 258.9 46.4 258.3 54.1 259.2 61.1 261.2 70.9 263.1 77.9 266.8 87.7 269.3 95.4"/><path stroke="#9BBB59" d="M268.6 11.4L266.6 17.7 263.5 33.1 261.7 40.1 260.5 46.4 259.9 54.1 260.8 61.1 262.6 70.2 264.8 77.9 268.5 87.7 269.3 90.1"/><path stroke="#2F4F9F" d="M269.3 15.9L268.1 20.5 265.2 33.8 263.6 39.4 262.8 42.9 262.2 46.4 261.5 54.1 262.4 61.1 264.0 69.5 266.4 77.9 269.3 85.5"/><path stroke="#E46C0A" d="M269.3 23.9L267.2 33.1 265.3 39.4 264.0 45.0 263.8 46.4 263.0 54.1 263.8 61.1 265.5 69.5 267.9 77.9 269.3 81.6M267.2 33.1L267.2 33.1"/><path stroke="#4F81BD" d="M269.3 31.7L268.8 33.8 266.8 40.1 265.4 45.7 264.5 54.1 265.3 61.1 266.9 69.5 269.3 77.6"/><path stroke="#95B3D7" d="M269.3 37.2L268.4 40.1 267.0 45.7 265.9 54.1 266.9 61.8 268.3 69.5 269.3 72.8"/><path stroke="#8EA9DB" d="M269.3 42.4L268.3 46.4 267.3 54.1 268.1 61.1 269.3 67.3"/><path stroke="#7F9FCF" d="M269.3 49.4L268.7 54.1 269.3 59.4"/></g>
<path fill="none" stroke="#0000FF" stroke-width="1.5" d="M136.6 10.5V58.8H66.9V96H136.5V147H66.9V185.5H136.5V251.5"/>
<path fill="none" stroke="#A8A8A8" stroke-width="0.7" d="M65.7 11.2V251.3"/><path fill="none" stroke="#404040" stroke-width="1" d="M269.6 11V251.5"/><path fill="none" stroke="#303030" stroke-width="0.8" d="M66.3 251.3v2.3M75.4 251.3v2.3M84.4 251.3v2.3M93.5 251.3v2.3M102.5 251.3v2.3M111.6 251.3v2.3M120.7 251.3v2.3M129.7 251.3v2.3M138.8 251.3v2.3M147.8 251.3v2.3M156.9 251.3v2.3M166.0 251.3v2.3M175.0 251.3v2.3M184.1 251.3v2.3M193.1 251.3v2.3M202.2 251.3v2.3M211.3 251.3v2.3M220.3 251.3v2.3M229.4 251.3v2.3M238.4 251.3v2.3M247.5 251.3v2.3M256.6 251.3v2.3M265.6 251.3v2.3M269.6 251.3h-2.2M269.6 242.1h-2.2M269.6 232.8h-2.2M269.6 223.6h-2.2M269.6 214.4h-2.2M269.6 205.2h-2.2M269.6 195.9h-2.2M269.6 186.7h-2.2M269.6 177.5h-2.2M269.6 168.3h-2.2M269.6 159.0h-2.2M269.6 149.8h-2.2M269.6 140.6h-2.2M269.6 131.3h-2.2M269.6 122.1h-2.2M269.6 112.9h-2.2M269.6 103.7h-2.2M269.6 94.4h-2.2M269.6 85.2h-2.2M269.6 76.0h-2.2M269.6 66.8h-2.2M269.6 57.5h-2.2M269.6 48.3h-2.2M269.6 39.1h-2.2M269.6 29.9h-2.2M269.6 20.6h-2.2M269.6 11.4h-2.2"/><path fill="none" stroke="#A0A0A0" stroke-width="0.7" d="M65.7 251.3h-1.6M65.7 232.8h-1.6M65.7 214.4h-1.6M65.7 195.9h-1.6M65.7 177.5h-1.6M65.7 159.0h-1.6M65.7 140.6h-1.6M65.7 122.1h-1.6M65.7 103.7h-1.6M65.7 85.2h-1.6M65.7 66.8h-1.6M65.7 48.3h-1.6M65.7 29.9h-1.6M65.7 11.4h-1.6"/>
<g style='font-family:"Liberation Serif",serif;font-weight:bold;font-size:10px' fill="#000"><text x="60.6" y="254.7" text-anchor="end">0</text><text x="60.6" y="236.2" text-anchor="end">5</text><text x="60.6" y="217.8" text-anchor="end">10</text><text x="60.6" y="199.3" text-anchor="end">15</text><text x="60.6" y="180.9" text-anchor="end">20</text><text x="60.6" y="162.4" text-anchor="end">25</text><text x="60.6" y="144.0" text-anchor="end">30</text><text x="60.6" y="125.5" text-anchor="end">35</text><text x="60.6" y="107.1" text-anchor="end">40</text><text x="60.6" y="88.6" text-anchor="end">45</text><text x="60.6" y="70.2" text-anchor="end">50</text><text x="60.6" y="51.7" text-anchor="end">55</text><text x="60.6" y="33.3" text-anchor="end">60</text><text x="60.6" y="14.8" text-anchor="end">65</text><text x="68.0" y="266.6" text-anchor="middle">-20</text><text x="86.1" y="266.6" text-anchor="middle">-15</text><text x="104.3" y="266.6" text-anchor="middle">-10</text><text x="122.4" y="266.6" text-anchor="middle">-5</text><text x="140.5" y="266.6" text-anchor="middle">0</text><text x="158.6" y="266.6" text-anchor="middle">5</text><text x="176.8" y="266.6" text-anchor="middle">10</text><text x="194.9" y="266.6" text-anchor="middle">15</text><text x="213.0" y="266.6" text-anchor="middle">20</text><text x="231.2" y="266.6" text-anchor="middle">25</text><text x="249.3" y="266.6" text-anchor="middle">30</text><text x="267.4" y="266.6" text-anchor="middle">35</text></g>
<text transform="translate(40 133) rotate(-90)" text-anchor="middle" style='font-family:"Liberation Serif",serif;font-weight:bold;font-size:14px'><tspan style="font-style:italic">r</tspan> (mm)</text>
<text x="175.7" y="283.6" text-anchor="middle" style='font-family:"Liberation Serif",serif;font-weight:bold;font-size:13.5px'><tspan style="font-style:italic">z</tspan> (mm)</text>
<text x="172.8" y="303.3" text-anchor="middle" style='font-family:"Liberation Sans",sans-serif;font-size:11px'>(a)</text>
<g style='font-family:"Liberation Serif",serif;font-weight:bold;font-size:9.3px'><text x="279.5" y="10.2" style="font-size:12.5px"><tspan style="font-style:italic">r</tspan><tspan dy="2.5" style="font-size:8px">e</tspan><tspan dy="-2.5"> (mm)</tspan></text><rect x="279.8" y="16.25" width="4.5" height="4.5" rx="0.6" fill="none" stroke="#7090D0" stroke-width="1"/><text x="286.4" y="21.6">5.75-6</text><rect x="279.8" y="26.93" width="4.5" height="4.5" rx="0.6" fill="none" stroke="#7090D0" stroke-width="1"/><text x="286.4" y="32.3">5.5-5.75</text><rect x="279.8" y="37.61" width="4.5" height="4.5" rx="0.6" fill="none" stroke="#7090D0" stroke-width="1"/><text x="286.4" y="43.0">5.25-5.5</text><rect x="279.8" y="48.29" width="4.5" height="4.5" rx="0.6" fill="none" stroke="#7090D0" stroke-width="1"/><text x="286.4" y="53.6">5-5.25</text><rect x="279.8" y="58.97" width="4.5" height="4.5" rx="0.6" fill="none" stroke="#D07040" stroke-width="1"/><text x="286.4" y="64.3">4.75-5</text><rect x="279.8" y="69.65" width="4.5" height="4.5" rx="0.6" fill="none" stroke="#4060A8" stroke-width="1"/><text x="286.4" y="75.0">4.5-4.75</text><rect x="279.8" y="80.33" width="4.5" height="4.5" rx="0.6" fill="none" stroke="#88B868" stroke-width="1"/><text x="286.4" y="85.7">4.25-4.5</text><rect x="279.8" y="91.01" width="4.5" height="4.5" rx="0.6" fill="none" stroke="#90C0F0" stroke-width="1"/><text x="286.4" y="96.4">4-4.25</text><rect x="279.8" y="101.69" width="4.5" height="4.5" rx="0.6" fill="none" stroke="#F8C850" stroke-width="1"/><text x="286.4" y="107.0">3.75-4</text><rect x="279.8" y="112.37" width="4.5" height="4.5" rx="0.6" fill="none" stroke="#C8C8C8" stroke-width="1"/><text x="286.4" y="117.7">3.5-3.75</text><rect x="279.8" y="123.05" width="4.5" height="4.5" rx="0.6" fill="none" stroke="#F0A070" stroke-width="1"/><text x="286.4" y="128.4">3.25-3.5</text><rect x="279.8" y="133.73" width="4.5" height="4.5" rx="0.6" fill="none" stroke="#B0C0F0" stroke-width="1"/><text x="286.4" y="139.1">3-3.25</text><rect x="279.8" y="144.41" width="4.5" height="4.5" rx="0.6" fill="none" stroke="#C83030" stroke-width="1"/><text x="286.4" y="149.8">2.75-3</text><rect x="279.8" y="155.09" width="4.5" height="4.5" rx="0.6" fill="none" stroke="#6080C8" stroke-width="1"/><text x="286.4" y="160.4">2.5-2.75</text><rect x="279.8" y="165.77" width="4.5" height="4.5" rx="0.6" fill="none" stroke="#FF40FF" stroke-width="1"/><text x="286.4" y="171.1">2.25-2.5</text><rect x="279.8" y="176.45" width="4.5" height="4.5" rx="0.6" fill="none" stroke="#40C0F0" stroke-width="1"/><text x="286.4" y="181.8">2-2.25</text><rect x="279.8" y="187.13" width="4.5" height="4.5" rx="0.6" fill="none" stroke="#90C060" stroke-width="1"/><text x="286.4" y="192.5">1.75-2</text><rect x="279.8" y="197.81" width="4.5" height="4.5" rx="0.6" fill="none" stroke="#F8A8A8" stroke-width="1"/><text x="286.4" y="203.2">1.5-1.75</text><rect x="279.8" y="208.49" width="4.5" height="4.5" rx="0.6" fill="none" stroke="#505050" stroke-width="1"/><text x="286.4" y="213.8">1.25-1.5</text><rect x="279.8" y="219.17" width="4.5" height="4.5" rx="0.6" fill="none" stroke="#2E8B2E" stroke-width="1"/><text x="286.4" y="224.5">1-1.25</text><rect x="279.8" y="229.85" width="4.5" height="4.5" rx="0.6" fill="none" stroke="#F07D32" stroke-width="1"/><text x="286.4" y="235.2">0.75-1</text><rect x="279.8" y="240.53" width="4.5" height="4.5" rx="0.6" fill="none" stroke="#0000FF" stroke-width="1"/><text x="286.4" y="245.9">0.5-0.75</text><rect x="279.8" y="251.21" width="4.5" height="4.5" rx="0.6" fill="none" stroke="#FF0000" stroke-width="1"/><text x="286.4" y="256.6">0.25-0.5</text><rect x="279.8" y="261.89" width="4.5" height="4.5" rx="0.6" fill="none" stroke="#000000" stroke-width="1"/><text x="286.4" y="267.2">0-0.25</text></g>
<path fill="none" stroke="#E2E2E2" stroke-width="0.6" d="M43.4 522.7L97.4 477.8M325.5 479.7L330.4 480.3M42.7 508.3L105.5 457.7M328.7 466.8L330.9 467.1M42.0 493.8L111.3 439.7M287.8 448.6L331.3 453.7M41.2 479.2L115.1 423.6M246.6 430.5L331.8 440.3M40.5 464.4L117.3 408.7M231.0 415.5L332.2 426.7M39.8 449.5L119.2 394.1M217.5 400.8L332.7 413.1M39.1 434.5L120.7 379.7M203.4 386.0L333.2 399.3M38.3 419.3L122.2 365.4M193.1 371.6L333.6 385.4M37.6 404.1L123.0 351.5M123.0 351.5L127.4 351.9M184.7 357.3L334.1 371.4M36.8 388.6L122.6 338.2M122.6 338.2L140.7 339.8M177.4 343.1L334.6 357.4M36.1 373.1L122.3 324.8M122.3 324.8L149.0 327.1M168.0 328.7L335.1 343.2M35.3 357.4L122.0 311.3M122.0 311.3L335.6 328.9"/><path fill="none" stroke="#8C8C8C" stroke-width="0.8" d="M44.1 537.0L35.3 357.4M35.3 357.4L122.0 311.3M122.0 311.3L335.6 328.9M335.6 328.9L330.0 493.5M125.8 466.9L122.0 311.3"/>
<g fill="none" stroke-width="0.5"><path stroke="#4472C4" d="M44.1 537.0L76.5 509.2 78.2 507.7 79.8 506.0 81.5 504.1 83.1 501.9 84.7 499.4 86.3 496.7 89.5 490.7 97.1 478.0M46.9 537.4L79.1 509.6 80.8 508.1 82.5 506.4 84.1 504.5 85.8 502.3 87.4 499.8 89.0 497.1 92.1 491.1 99.8 478.1M49.7 537.9L83.5 508.5 85.2 506.8 86.8 504.9 88.4 502.7 90.0 500.2 91.6 497.5 94.7 491.5 102.6 478.3M52.5 538.3L86.2 508.9 87.8 507.2 89.5 505.3 91.1 503.1 92.7 500.6 94.2 497.9 97.3 491.9 105.2 478.7M55.3 538.8L88.9 509.3 90.5 507.6 92.1 505.7 93.7 503.5 95.3 501.1 96.9 498.3 100.0 492.3 107.8 479.1M58.1 539.2L91.5 509.7 93.2 508.0 94.8 506.1 96.4 503.9 98.0 501.5 99.5 498.8 102.6 492.7 110.5 479.3M61.0 539.6L94.2 510.1 95.9 508.4 97.5 506.5 99.1 504.3 100.6 501.9 102.2 499.2 105.3 493.1 113.1 479.7M63.8 540.1L96.9 510.5 98.5 508.8 100.2 506.9 101.7 504.7 103.3 502.3 104.9 499.6 107.9 493.5 115.8 480.1M66.7 540.5L99.6 510.8 101.2 509.2 102.8 507.3 104.4 505.1 106.0 502.7 107.5 500.0 110.6 493.9 118.1 481.1 118.6 480.2M69.5 541.0L102.3 511.2 103.9 509.6 105.5 507.7 107.1 505.5 108.7 503.1 110.2 500.4 113.2 494.3 120.7 481.5 121.2 480.6M72.4 541.4L105.0 511.6 106.6 510.0 108.2 508.1 109.8 506.0 111.3 503.5 112.9 500.8 115.9 494.7 123.8 481.0M75.2 541.9L107.7 512.0 109.3 510.4 110.9 508.5 112.5 506.4 114.0 503.9 115.6 501.3 118.6 495.2 126.0 482.4 126.6 481.2M78.1 542.3L110.5 512.4 112.1 510.8 113.6 508.9 115.2 506.8 116.7 504.4 118.2 501.7 121.2 495.6 128.7 482.8 129.2 481.6M81.0 542.8L113.2 512.8 114.8 511.2 116.3 509.3 117.9 507.2 119.4 504.8 120.9 502.1 123.9 496.0 131.3 483.2 132.0 481.7M83.8 543.2L115.9 513.2 117.5 511.6 119.0 509.8 120.6 507.7 123.6 502.6 126.6 496.5 134.0 483.6 134.8 481.9M86.7 543.7L118.6 513.6 120.2 512.0 121.8 510.2 123.3 508.1 126.3 503.1 129.3 497.0 137.6 482.3M89.6 544.1L100.1 533.9 106.8 527.8 121.4 514.0 122.9 512.4 124.5 510.6 126.0 508.5 129.0 503.6 133.5 494.8 140.5 482.2M92.5 544.6L97.7 539.3 102.9 533.6 104.6 532.1 108.0 529.6 111.3 526.6 124.1 514.4 125.7 512.9 127.2 511.1 128.7 509.0 131.7 504.1 136.1 495.3 143.4 482.5M95.4 545.0L98.9 541.5 100.6 539.5 104.0 534.5 105.7 532.5 107.4 531.3 110.8 529.7 112.4 528.5 115.7 525.5 126.9 514.8 128.4 513.3 129.9 511.5 131.5 509.4 134.5 504.5 138.8 495.7 146.1 482.7M98.3 545.4L101.8 541.8 103.5 539.4 106.8 532.7 108.4 530.2 110.2 529.4 111.9 529.7 113.6 529.6 115.3 528.8 118.5 525.9 129.6 515.2 131.2 513.7 132.7 511.9 134.2 509.9 137.2 505.0 141.5 496.2 148.9 482.9M101.2 545.9L102.9 544.1 104.6 542.0 106.3 539.1 108.0 534.8 109.6 530.1 111.2 526.9 112.9 526.9 114.7 528.4 116.4 529.3 118.1 529.0 119.7 527.8 121.3 526.3 133.9 514.1 135.4 512.3 136.9 510.3 139.9 505.5 144.2 496.7 151.6 483.4M104.1 546.3L105.8 544.5 107.5 542.3 109.2 538.9 110.8 533.7 112.3 527.1 113.1 522.7M114.8 521.4L115.7 523.9 117.5 527.2 119.2 529.1 120.9 529.2 122.5 528.2 124.1 526.7 136.7 514.5 138.2 512.8 139.7 510.8 142.6 506.0 146.9 497.1 154.0 484.5 154.5 483.6M107.0 546.8L108.7 545.0 110.4 542.7 112.1 539.1 113.7 533.5 115.1 524.8 115.2 523.7M118.4 521.2L120.3 527.0 122.1 529.3 123.7 529.6 125.4 528.6 127.0 527.1 139.4 514.9 140.9 513.2 142.4 511.2 145.3 506.4 146.8 503.7 149.7 497.6 156.7 485.0 157.3 483.8M109.9 547.3L111.6 545.4 113.3 543.2 115.0 539.8 116.6 534.6 118.1 527.9 118.9 523.5M120.6 522.2L121.4 524.7 123.2 528.1 124.9 530.0 126.6 530.1 128.2 529.0 129.8 527.6 142.2 515.3 143.7 513.6 145.2 511.6 148.1 506.9 149.5 504.2 152.4 498.1 159.4 485.5 160.1 484.0M112.9 547.7L114.6 545.9 116.3 543.8 117.9 540.9 119.5 536.6 121.1 531.8 122.7 528.6 124.4 528.6 126.1 530.1 127.8 531.0 129.4 530.7 131.0 529.5 132.6 528.0 144.9 515.7 146.4 514.0 147.9 512.1 150.8 507.4 152.3 504.7 155.1 498.6 163.0 484.1M115.8 548.2L119.2 544.5 120.8 542.0 124.1 535.3 125.7 532.8 127.3 532.0 129.0 532.2 130.7 532.2 132.3 531.3 135.4 528.4 149.2 514.5 150.7 512.6 153.6 508.0 155.0 505.3 157.8 499.1 166.0 484.2M118.7 548.6L122.1 545.1 123.8 543.0 127.0 538.0 128.6 536.0 130.3 534.7 133.5 533.1 135.1 531.9 138.3 528.8 150.5 516.5 152.0 514.9 153.4 513.1 156.3 508.6 157.7 505.9 160.5 499.8 161.9 497.1 169.0 484.2M121.7 549.1L126.7 543.8 131.6 538.0 133.2 536.5 136.4 533.9 139.6 530.8 153.3 516.9 154.7 515.3 156.2 513.5 157.6 511.5 160.5 506.5 164.7 497.7 171.8 484.4M124.6 549.6L134.5 539.1 140.9 532.9 156.0 517.3 157.5 515.8 159.0 514.0 160.4 512.0 163.2 507.1 167.4 498.2 174.2 485.6 174.6 484.6M127.6 550.0L158.8 517.7 161.7 514.5 163.2 512.5 166.0 507.7 170.1 498.8 176.9 486.1 177.5 484.9M130.5 550.5L163.1 516.6 164.5 514.9 165.9 513.0 168.7 508.2 170.1 505.5 172.9 499.3 180.3 485.2M133.5 550.9L165.9 517.0 167.3 515.4 168.7 513.4 171.5 508.8 172.9 506.1 175.6 499.9 183.2 485.3M136.5 551.4L170.1 515.8 171.5 513.9 174.3 509.3 175.7 506.6 178.4 500.5 186.2 485.4M139.4 551.9L171.5 517.8 172.9 516.2 174.3 514.4 177.1 509.8 178.4 507.2 181.1 501.0 189.2 485.4M142.4 552.3L174.3 518.2 175.7 516.6 177.1 514.8 178.5 512.7 181.2 507.7 185.2 498.8 192.1 485.6M145.4 552.8L177.1 518.6 178.5 517.1 179.9 515.3 181.2 513.2 184.0 508.2 188.0 499.3 194.9 485.8M148.4 553.3L179.9 519.0 182.7 515.7 184.0 513.6 186.7 508.7 190.7 499.8 197.8 486.1M151.4 553.7L182.7 519.4 185.5 516.1 186.8 514.1 189.5 509.3 193.5 500.3 200.7 486.3M154.4 554.2L186.9 518.3 188.3 516.6 189.6 514.6 192.3 509.8 196.3 500.8 203.7 486.3M157.4 554.7L189.7 518.7 191.1 517.0 192.4 515.0 195.1 510.3 196.4 507.5 199.0 501.3 206.7 486.3M160.4 555.1L192.6 519.1 193.9 517.4 195.2 515.5 197.9 510.8 199.2 508.0 201.8 501.8 209.6 486.6M163.5 555.6L195.4 519.5 196.7 517.9 198.1 515.9 200.7 511.2 202.0 508.5 204.6 502.3 212.4 486.8M166.5 556.1L198.2 519.9 199.6 518.3 200.9 516.4 203.5 511.7 204.8 508.9 207.4 502.7 215.4 487.0M169.5 556.6L202.4 518.7 203.7 516.8 206.3 512.1 207.6 509.4 210.2 503.1 218.2 487.2M172.5 557.0L181.6 546.3 188.8 538.2 205.2 519.1 206.5 517.2 209.1 512.6 210.4 509.9 213.0 503.6 221.1 487.5M175.6 557.5L180.1 552.0 184.6 546.0 190.3 540.3 208.1 519.5 209.4 517.6 212.0 513.0 213.2 510.3 215.8 504.1 224.2 487.5M178.6 558.0L181.6 554.3 183.1 552.2 186.1 547.0 187.5 544.9 189.0 543.6 191.9 541.9 193.3 540.6 196.1 537.4 210.9 519.9 212.2 518.1 214.8 513.5 216.1 510.8 218.6 504.6 227.0 487.8M181.7 558.5L184.7 554.6 186.2 552.1 189.1 545.1 190.5 542.5 192.0 541.7 193.4 541.9 194.8 541.8 196.3 540.9 199.1 537.9 212.5 522.0 213.8 520.4 215.1 518.5 217.6 513.9 218.9 511.2 221.4 505.1 222.6 502.4 230.1 487.7M184.7 558.9L186.2 557.0 187.7 554.9 189.2 551.8 190.6 547.4 192.1 542.5 193.5 539.3 195.0 539.2 196.4 540.6 197.8 541.5 199.2 541.1 200.6 539.9 203.4 536.7 215.3 522.4 216.6 520.8 217.9 518.9 220.4 514.4 221.7 511.7 224.2 505.5 225.4 502.9 232.8 488.2M187.8 559.4L189.3 557.5 190.8 555.1 192.2 551.6 193.7 546.3 195.1 539.9 195.5 535.4M197.5 533.4L197.9 536.5 199.4 539.5 200.8 541.3 202.2 541.4 203.6 540.3 205.0 538.7 218.2 522.8 220.8 519.4 223.3 514.8 224.5 512.2 227.0 506.0 228.2 503.3 235.7 488.4M190.9 559.9L192.4 557.9 193.8 555.5 195.3 551.8 196.7 546.1 198.1 537.0 198.1 536.3M200.9 533.3L202.4 539.3 203.8 541.5 205.2 541.8 206.6 540.7 207.9 539.2 221.1 523.2 223.6 519.8 226.1 515.3 227.4 512.6 231.1 503.7 238.6 488.6M194.0 560.4L195.4 558.4 196.9 556.1 198.3 552.5 199.7 547.2 201.2 540.8 201.6 536.3M203.6 534.3L204.0 537.4 205.4 540.4 206.8 542.2 208.2 542.3 209.5 541.2 210.9 539.6 224.0 523.6 226.5 520.2 229.0 515.7 230.2 513.1 233.9 504.2 241.5 488.8M197.0 560.8L198.5 559.0 199.9 556.7 201.4 553.7 204.2 544.4 205.6 541.1 207.0 541.0 208.4 542.4 209.8 543.3 211.2 542.9 212.5 541.7 213.9 540.1 226.9 524.0 229.4 520.6 231.8 516.1 233.1 513.5 236.7 504.6 244.4 489.0M200.1 561.3L203.0 557.4 204.4 554.9 207.3 547.9 208.7 545.3 210.0 544.5 211.4 544.6 212.8 544.5 214.1 543.6 216.8 540.5 229.7 524.5 232.2 521.0 234.7 516.6 235.9 513.9 239.5 505.0 247.4 489.1M203.2 561.8L206.1 558.1 207.5 555.9 210.3 550.7 211.7 548.5 213.1 547.2 215.8 545.5 217.1 544.2 232.6 524.9 235.1 521.5 236.3 519.4 238.8 514.4 242.4 505.4 250.4 489.3M206.3 562.3L210.6 556.7 214.7 550.6 218.8 546.3 221.5 543.1 235.5 525.3 238.0 521.9 239.2 519.8 241.6 514.8 245.2 505.8 253.2 489.7M209.4 562.8L217.8 551.8 224.5 543.5 238.4 525.7 240.9 522.3 242.1 520.2 244.5 515.2 248.1 506.3 256.1 489.9M212.5 563.3L241.4 526.1 243.8 522.7 245.0 520.7 247.4 515.7 250.9 506.7 259.0 490.0M215.7 563.8L244.3 526.5 246.7 523.2 247.9 521.1 250.2 516.1 253.8 507.1 261.8 490.5M218.8 564.2L247.2 527.0 249.6 523.6 250.8 521.5 253.1 516.6 256.6 507.5 264.6 490.9M221.9 564.7L250.1 527.4 252.5 524.0 253.7 521.9 256.0 517.0 259.5 507.9 267.6 491.0M225.0 565.2L253.1 527.8 255.4 524.4 256.6 522.4 258.9 517.4 262.4 508.4 270.4 491.5M228.2 565.7L256.0 528.2 258.3 524.9 259.5 522.8 261.8 517.9 265.2 508.8 273.2 491.9M231.3 566.2L260.1 527.1 261.2 525.3 263.5 520.9 265.8 515.4 268.1 509.2 276.1 492.0M234.5 566.7L263.0 527.5 264.2 525.7 266.5 521.3 268.7 515.8 271.0 509.6 279.0 492.4M237.6 567.2L266.0 527.9 267.1 526.1 269.4 521.7 271.6 516.2 273.9 510.0 281.8 492.8M240.8 567.7L268.9 528.3 270.0 526.5 272.3 522.2 274.5 516.7 276.8 510.4 284.6 493.2M244.0 568.2L271.9 528.7 273.0 527.0 275.2 522.6 277.4 517.1 279.7 510.8 287.5 493.5M247.2 568.7L274.8 529.2 275.9 527.4 278.2 523.0 280.4 517.5 282.6 511.2 290.3 493.9M250.3 569.2L277.8 529.6 278.9 527.8 281.1 523.4 283.3 517.9 285.5 511.6 293.3 494.1M253.5 569.7L280.8 530.0 281.9 528.2 284.0 523.8 286.2 518.4 288.4 512.0 296.2 494.5M256.7 570.2L283.7 530.4 284.8 528.7 287.0 524.3 289.1 518.8 291.3 512.5 299.0 494.9M259.9 570.7L286.7 530.9 287.8 529.1 289.9 524.7 292.1 519.2 294.2 512.9 301.9 495.1M263.1 571.2L289.7 531.3 290.8 529.5 292.9 525.1 295.0 519.6 297.2 513.3 304.8 495.5M266.3 571.7L280.6 550.0 284.0 544.6 287.3 539.9 293.7 529.9 295.9 525.6 298.0 520.1 300.1 513.7 307.7 495.9M269.6 572.2L283.7 550.4 284.8 548.4 287.1 543.9 289.3 541.7 290.4 540.3 296.7 530.4 298.8 526.0 300.9 520.5 303.0 514.1 310.6 496.3M272.8 572.7L286.8 550.8 288.0 548.3 289.1 544.5 290.2 541.5 291.3 541.2 292.3 541.5 293.4 540.6 298.7 532.6 299.7 530.8 301.8 526.4 303.9 520.9 306.0 514.5 313.4 496.7M276.0 573.2L288.8 553.1 289.9 551.1 291.1 547.8 293.5 536.0 294.4 538.9 295.4 541.1 296.5 540.9 298.6 537.9 302.7 531.2 304.8 526.8 306.9 521.4 308.9 514.9 316.5 496.8M279.3 573.7L291.9 553.6 293.0 551.5 294.2 547.9 295.4 540.9 296.0 533.0M297.3 531.3L297.6 537.5 298.5 541.1 299.5 541.3 300.6 540.0 304.7 533.4 306.7 529.6 308.8 524.7 311.9 515.4 319.3 497.2M44.1 537.0L279.3 573.7M46.0 535.4L91.4 542.4 108.7 545.0 126.3 547.8 174.1 555.3 192.4 557.9 210.8 561.0 280.5 571.8M47.8 533.7L93.1 540.7 98.9 541.5 110.4 542.7 122.1 545.1 128.0 546.1 175.6 553.5 181.6 554.3 190.8 555.1 193.8 555.5 196.9 556.1 206.1 558.1 212.3 559.2 281.6 569.9M49.7 532.1L94.9 539.0 97.7 539.3 100.6 539.5 103.5 539.4 109.2 538.9 112.1 539.1 115.0 539.8 120.8 542.0 123.8 543.0 126.7 543.8 129.6 544.4 177.1 551.7 180.1 552.0 183.1 552.2 186.2 552.1 192.2 551.6 195.3 551.8 198.3 552.5 204.4 554.9 207.5 555.9 210.6 556.7 213.7 557.3 282.8 568.0M51.6 530.5L90.9 536.6 96.6 537.3 99.5 537.4 102.3 537.1 105.1 536.2 108.0 534.8 110.8 533.7 113.7 533.5 116.6 534.6 122.5 538.8 125.4 540.6 128.3 541.8 131.2 542.6 137.1 543.6 163.7 547.7 172.6 549.1 178.6 549.9 181.6 550.0 184.6 549.7 187.6 548.8 190.6 547.4 193.7 546.3 196.7 546.1 199.7 547.2 205.9 551.5 208.9 553.4 212.0 554.6 215.0 555.4 224.3 557.0 284.0 566.2M53.4 528.9L92.7 534.9 98.3 535.5 101.2 535.4 104.0 534.5 106.8 532.7 109.6 530.1 112.3 527.1 115.1 524.8 118.1 527.9 121.1 531.8 124.1 535.3 127.0 538.0 130.0 539.8 132.9 540.8 138.7 542.0 174.1 547.4 180.1 548.0 183.1 547.9 186.1 547.0 189.1 545.1 195.1 539.9 198.1 537.0 201.2 540.8 207.3 547.9 210.3 550.7 213.4 552.5 216.4 553.6 219.5 554.2 225.6 555.3 285.1 564.4M55.3 527.4L94.4 533.3 97.2 533.7 100.1 533.9 102.9 533.6 105.7 532.5 108.4 530.2 111.2 526.9 112.8 521.9M120.9 523.4L122.7 528.6 125.7 532.8 128.6 536.0 131.6 538.0 134.5 539.1 137.4 539.8 140.3 540.3 175.6 545.7 178.6 546.0 181.6 546.3 184.6 546.0 187.5 544.9 190.5 542.5 193.5 539.3 194.7 533.9M204.5 535.7L205.6 541.1 208.7 545.3 211.7 548.5 214.7 550.6 217.8 551.8 220.8 552.5 227.0 553.5 286.3 562.5M57.1 525.8L96.1 531.7 101.8 532.3 104.6 532.1 107.4 531.3 110.2 529.4 112.9 526.9 115.7 523.9 118.5 521.6 121.4 524.7 124.4 528.6 127.3 532.0 130.3 534.7 133.2 536.5 136.1 537.5 141.9 538.6 177.1 544.0 183.0 544.6 186.0 544.5 189.0 543.6 192.0 541.7 197.9 536.5 201.0 533.6 204.0 537.4 210.0 544.5 213.1 547.2 216.1 549.0 219.1 550.1 222.2 550.8 228.3 551.8 287.4 560.7M58.9 524.2L97.8 530.1 103.5 530.8 106.3 530.9 109.1 530.6 111.9 529.7 114.7 528.4 117.5 527.2 120.3 527.0 123.2 528.1 129.0 532.2 131.9 534.0 134.8 535.2 137.7 536.0 143.5 537.0 169.7 541.0 178.6 542.3 184.5 543.0 187.5 543.1 190.4 542.8 193.4 541.9 196.4 540.6 199.4 539.5 202.4 539.3 205.4 540.4 211.4 544.6 214.4 546.4 217.5 547.7 220.5 548.5 229.6 550.0 288.6 558.9M60.7 522.7L105.1 529.3 108.0 529.6 110.8 529.7 113.6 529.6 119.2 529.1 122.1 529.3 124.9 530.0 130.7 532.2 133.5 533.1 136.4 533.9 139.3 534.4 185.9 541.5 188.9 541.8 191.9 541.9 194.8 541.8 200.8 541.3 203.8 541.5 206.8 542.2 212.8 544.5 215.8 545.5 218.8 546.3 221.8 546.9 289.7 557.1M62.5 521.1L106.8 527.8 112.4 528.5 123.7 529.6 135.1 531.9 140.9 532.9 187.4 539.8 193.3 540.6 205.2 541.8 217.1 544.2 223.2 545.2 290.8 555.4M64.3 519.6L108.5 526.2 125.4 528.6 145.3 531.7 188.8 538.2 206.6 540.7 224.5 543.5 291.9 553.6M66.1 518.1L277.5 549.6 283.7 550.4 293.0 551.5M67.8 516.6L278.7 547.8 281.7 548.2 284.8 548.4 288.0 548.3 291.1 547.8 294.2 547.9M69.6 515.1L279.8 546.1 282.9 546.4 286.0 546.0 289.1 544.5 292.3 542.2 295.4 540.9M71.3 513.6L280.9 544.4 284.0 544.6 287.1 543.9 290.2 541.5 293.5 536.0 294.5 531.6M73.0 512.1L282.1 542.7 285.1 543.0 288.2 542.7 291.3 541.2 294.4 538.9 297.6 537.5M74.8 510.6L283.2 541.1 286.2 541.5 289.3 541.7 292.3 541.5 295.4 541.1 298.5 541.1M76.5 509.2L284.3 539.4 290.4 540.3 299.5 541.3M78.2 507.7L300.6 540.0M79.8 506.0L144.9 515.7 301.6 538.3M81.5 504.1L113.6 508.9 163.1 516.6 302.6 536.7M83.1 501.9L117.9 507.2 161.7 514.5 175.7 516.6 303.7 535.1M84.7 499.4L119.4 504.8 146.6 509.4 168.7 513.4 191.1 517.0 225.2 522.0 304.7 533.4M86.3 496.7L120.9 502.1 148.1 506.9 172.9 511.8 195.2 515.5 232.2 521.0 305.7 531.7M87.9 493.7L122.4 499.2 149.5 504.2 174.3 509.3 196.6 513.3 239.2 519.8 306.7 529.6M89.5 490.7L123.9 496.0 150.9 501.1 175.7 506.6 197.9 510.8 226.1 515.3 243.3 517.9 307.8 527.3M91.0 488.1L125.4 493.4 152.4 498.1 157.8 499.1 177.0 503.7 199.2 508.0 227.4 512.6 250.2 516.1 308.8 524.7M92.6 485.5L126.9 490.8 153.8 495.5 175.6 499.9 197.7 504.5 214.5 507.3 231.4 510.1 260.0 514.6 309.8 521.8M94.1 482.9L131.0 488.7 155.2 493.0 179.7 497.8 196.3 500.8 229.8 506.5 264.1 511.8 310.9 518.6M95.7 480.3L132.5 486.2 156.6 490.5 181.1 495.3 205.9 499.8 242.4 505.4 311.9 515.4M102.4 478.6L134.0 483.6 158.0 487.9 182.4 492.7 198.9 495.8 212.7 498.2 235.1 501.8 252.1 504.3 312.9 512.9M144.4 482.7L162.1 486.0 202.9 493.8 222.3 497.1 241.9 500.3 264.6 503.6 313.9 510.6M168.5 484.4L206.9 491.8 237.5 497.0 265.7 501.3 314.9 508.2M188.8 485.6L213.7 490.4 244.3 495.6 269.7 499.4 315.8 505.8M208.4 486.7L223.2 489.4 248.2 493.7 270.8 497.1 316.8 503.5M229.6 488.0L246.6 490.9 269.0 494.3 317.8 501.1M257.3 490.1L273.0 492.5 318.7 498.8M99.7 478.4L97.0 478.1M102.3 478.6L99.7 478.4M102.3 478.6L102.4 478.6M105.1 478.9L102.4 478.6M107.7 479.2L105.1 478.9M110.4 479.5L107.7 479.2M113.1 479.8L110.4 479.5M115.7 480.1L113.1 479.8M118.4 480.4L115.7 480.1M121.1 480.7L118.4 480.4M123.8 481.0L121.1 480.7M126.5 481.3L123.8 481.0M129.2 481.6L126.5 481.3M131.9 481.9L129.2 481.6M134.7 482.2L131.9 481.9M137.5 482.4L134.7 482.2M140.4 482.5L137.5 482.4M143.3 482.6L140.4 482.5M144.3 482.7L143.3 482.6M144.3 482.7L146.1 482.9M148.8 483.1L146.1 482.9M151.6 483.4L148.8 483.1M113.1 522.9L112.8 521.9M112.8 521.9L114.8 521.3M154.4 483.7L151.6 483.4M115.2 524.1L113.1 522.9M118.4 521.0L114.8 521.3M157.2 483.9L154.4 483.7M118.8 523.8L115.2 524.1M120.5 522.1L118.4 521.0M160.0 484.1L157.2 483.9M120.8 523.1L118.8 523.8M120.8 523.1L120.5 522.1M162.9 484.3L160.0 484.1M165.9 484.3L162.9 484.3M168.3 484.4L165.9 484.3M168.3 484.4L168.9 484.4M171.7 484.7L168.9 484.4M174.5 484.9L171.7 484.7M177.4 485.1L174.5 484.9M180.3 485.3L177.4 485.1M183.2 485.4L180.3 485.3M186.2 485.5L183.2 485.4M188.7 485.6L186.2 485.5M188.7 485.6L189.1 485.6M192.0 485.9L189.1 485.6M194.8 486.1L192.0 485.9M197.7 486.3L194.8 486.1M200.6 486.4L197.7 486.3M203.6 486.5L200.6 486.4M206.6 486.6L203.6 486.5M208.3 486.7L206.6 486.6M208.3 486.7L209.5 486.8M212.4 487.0L209.5 486.8M215.3 487.2L212.4 487.0M218.2 487.4L215.3 487.2M221.1 487.6L218.2 487.4M224.0 487.7L221.1 487.6M227.0 487.9L224.0 487.7M229.6 488.0L227.0 487.9M229.6 488.0L230.0 488.0M232.8 488.3L230.0 488.0M195.5 535.5L194.7 534.0M194.7 534.0L197.5 533.1M235.7 488.5L232.8 488.3M198.1 536.4L195.5 535.5M200.9 533.1L197.5 533.1M238.6 488.7L235.7 488.5M201.6 536.4L198.1 536.4M203.5 534.0L200.9 533.1M241.5 489.0L238.6 488.7M204.4 535.5L201.6 536.4M204.4 535.5L203.5 534.0M244.4 489.1L241.5 489.0M247.3 489.3L244.4 489.1M250.3 489.5L247.3 489.3M253.2 489.8L250.3 489.5M256.1 490.0L253.2 489.8M257.3 490.1L256.1 490.0M257.3 490.1L258.9 490.3M261.8 490.6L258.9 490.3M264.6 490.9L261.8 490.6M267.5 491.2L264.6 490.9M270.3 491.5L267.5 491.2M273.2 491.9L270.3 491.5M276.0 492.2L273.2 491.9M278.9 492.6L276.0 492.2M281.7 492.9L278.9 492.6M284.6 493.3L281.7 492.9M287.5 493.6L284.6 493.3M290.3 494.0L287.5 493.6M293.2 494.3L290.3 494.0M296.1 494.7L293.2 494.3M299.0 495.0L296.1 494.7M301.8 495.4L299.0 495.0M304.7 495.7L301.8 495.4M307.6 496.1L304.7 495.7M310.5 496.4L307.6 496.1M313.4 496.8L310.5 496.4M316.4 497.1L313.4 496.8M296.0 533.2L294.5 531.9M294.5 531.9L297.3 531.2M319.3 497.4L316.4 497.1"/><path stroke="#ED7D31" d="M97.1 478.0L101.7 467.5 105.4 457.7M99.8 478.1L104.3 467.9 108.1 457.9M102.6 478.3L106.9 468.4 110.8 458.1M105.2 478.7L109.5 468.8 113.4 458.3M107.8 479.1L112.1 469.3 116.0 458.8M110.5 479.3L114.7 469.8 118.7 459.0M113.1 479.7L117.3 470.2 121.4 459.2M115.8 480.1L119.9 470.7 124.1 459.3M118.6 480.2L122.5 471.1 126.7 459.8M121.2 480.6L125.1 471.6 129.4 460.0M123.8 481.0L124.8 478.9 127.7 472.0 132.1 460.1M126.6 481.2L127.5 479.4 130.3 472.5 134.8 460.6M129.2 481.6L130.1 479.8 134.4 469.4 137.5 460.7M132.0 481.7L132.7 480.3 137.0 469.9 140.1 461.2M134.8 481.9L135.4 480.8 139.6 470.4 142.8 461.4M137.6 482.3L138.0 481.4 142.3 471.0 145.5 461.7M140.5 482.2L144.9 471.6 148.4 461.7M143.4 482.5L147.5 472.2 151.1 462.1M146.1 482.7L150.2 472.8 153.9 462.2M148.9 482.9L152.8 473.3 156.8 462.2M151.6 483.4L155.5 473.9 159.6 462.5M113.1 522.7L113.8 518.6 114.8 521.4M154.5 483.6L155.4 481.4 158.2 474.5 162.3 462.9M115.2 523.7L116.2 508.3M116.7 507.9L118.4 521.2M157.3 483.8L158.1 482.0 160.8 475.1 165.2 462.8M118.9 523.5L119.6 519.4 120.6 522.2M160.1 484.0L160.8 482.6 164.8 472.1 167.9 463.2M163.0 484.1L163.5 483.2 167.5 472.8 170.7 463.4M166.0 484.2L170.2 473.5 173.7 463.2M169.0 484.2L172.8 474.2 176.6 463.4M171.8 484.4L175.5 474.9 179.5 463.5M174.6 484.6L178.2 475.6 182.3 463.7M177.5 484.9L178.3 483.1 182.2 472.7 185.2 463.8M180.3 485.2L181.0 483.8 184.9 473.5 188.1 463.9M183.2 485.3L187.6 474.3 191.0 464.0M186.2 485.4L190.3 475.0 193.9 464.2M189.2 485.4L193.0 475.6 196.8 464.3M192.1 485.6L195.7 476.4 199.7 464.5M194.9 485.8L199.6 473.6 202.6 464.7M197.8 486.1L202.3 474.5 205.5 464.9M200.7 486.3L205.0 475.3 208.5 464.7M203.7 486.3L207.8 476.0 211.4 464.9M206.7 486.3L210.5 476.7 214.3 465.1M209.6 486.6L214.4 474.0 217.3 465.0M212.4 486.8L217.1 474.8 220.2 465.2M215.4 487.0L219.9 475.6 223.1 465.3M218.2 487.2L222.6 476.3 226.0 465.5M221.1 487.5L225.3 477.0 229.0 465.4M224.2 487.5L228.0 477.6 229.2 474.2 231.9 465.5M227.0 487.8L232.0 475.0 234.7 465.9M230.1 487.7L234.7 475.7 237.6 466.0M232.8 488.2L237.4 476.4 240.5 466.2M195.5 535.4L196.5 525.8 197.5 533.4M235.7 488.4L240.2 477.1 243.5 466.3M198.1 536.3L198.3 521.0M200.6 518.6L200.9 533.3M238.6 488.6L242.9 477.7 246.4 466.4M201.6 536.3L202.5 526.7 203.6 534.3M241.5 488.8L245.7 478.3 246.8 474.9 249.3 466.5M244.4 489.0L248.4 478.9 249.6 475.7 252.2 466.6M247.4 489.1L252.3 476.4 255.1 466.7M250.4 489.3L255.1 477.1 258.1 466.8M253.2 489.7L257.8 477.6 260.9 467.1M256.1 489.9L260.6 478.1 263.8 467.2M259.0 490.0L263.4 478.7 266.7 467.5M261.8 490.5L266.1 479.2 269.6 467.5M264.6 490.9L268.9 479.7 270.0 476.4 272.5 467.9M267.6 491.0L271.7 480.2 272.8 477.0 275.4 467.9M270.4 491.5L275.6 477.6 278.3 468.2M273.2 491.9L278.3 478.1 281.1 468.5M276.1 492.0L281.1 478.5 284.0 468.6M279.0 492.4L283.9 478.9 286.8 469.0M281.8 492.8L286.7 479.3 289.6 469.2M284.6 493.2L289.5 479.7 292.4 469.7M287.5 493.5L292.4 480.1 295.3 469.8M290.3 493.9L295.2 480.5 298.1 470.2M293.3 494.1L298.0 480.9 300.9 470.6M296.2 494.5L300.8 481.3 303.8 470.7M299.0 494.9L303.6 481.7 306.6 471.2M301.9 495.1L306.5 482.1 309.4 471.6M304.8 495.5L309.3 482.5 312.3 471.7M307.7 495.9L312.2 482.9 315.1 472.1M310.6 496.3L315.0 483.3 318.1 472.2M313.4 496.7L317.9 483.6 320.9 472.7M316.5 496.8L320.7 484.0 323.7 473.1M296.0 533.0L296.9 522.0 297.3 531.3M319.3 497.2L323.6 484.4 326.7 473.2M112.8 521.9L113.8 518.6 115.9 507.9M117.0 508.2L119.6 519.4 120.9 523.4M194.7 533.9L196.5 525.8 196.7 519.5M202.2 520.4L202.5 526.7 204.5 535.7M294.5 531.6L296.9 522.0M97.2 477.7L102.4 478.6M98.7 474.3L135.4 480.8 144.4 482.7M100.2 470.9L136.8 477.3 160.8 482.6 168.5 484.4M101.7 467.5L138.2 473.9 162.1 479.1 188.8 485.6M103.2 463.7L139.6 470.4 163.5 475.6 198.5 484.4 208.4 486.7M104.6 459.9L141.0 466.5 164.8 472.1 178.2 475.6 210.7 483.8 218.9 485.7 229.6 488.0M127.1 459.9L142.4 462.7 166.2 468.2 187.6 474.3 206.5 479.2 220.1 482.6 247.7 488.5 257.3 490.1M160.2 462.7L170.2 465.1 194.2 472.0 205.0 475.3 213.2 477.4 224.1 480.1 248.9 485.5 274.0 489.8 319.7 496.3M180.8 463.9L195.5 468.1 219.9 475.6 230.8 478.2 250.0 482.5 275.1 486.9 320.7 493.3M198.0 464.7L226.5 473.4 234.7 475.7 251.2 479.5 276.2 484.0 321.7 490.3M213.3 465.1L227.7 469.6 252.3 476.4 255.1 477.1 277.3 481.1 322.6 487.4M228.9 465.7L253.4 472.5 275.6 477.6 278.3 478.1 323.6 484.4M247.0 466.6L257.3 469.4 276.6 473.9 279.4 474.4 324.5 480.9M267.3 467.7L277.7 470.1 280.5 470.7 325.5 477.4M317.3 472.5L326.5 473.8M108.0 458.1L105.4 457.8M110.7 458.3L108.0 458.1M113.3 458.6L110.7 458.3M116.0 458.8L113.3 458.6M118.7 459.1L116.0 458.8M121.4 459.4L118.7 459.1M124.0 459.6L121.4 459.4M126.7 459.9L124.0 459.6M126.9 459.9L126.7 459.9M126.9 459.9L129.4 460.1M132.1 460.4L129.4 460.1M134.7 460.7L132.1 460.4M137.4 461.0L134.7 460.7M140.1 461.2L137.4 461.0M142.8 461.5L140.1 461.2M145.5 461.7L142.8 461.5M148.3 461.9L145.5 461.7M151.1 462.1L148.3 461.9M153.9 462.3L151.1 462.1M156.7 462.5L153.9 462.3M159.5 462.6L156.7 462.5M160.2 462.7L159.5 462.6M160.2 462.7L162.3 462.9M116.2 508.3L115.9 508.0M115.9 508.0L116.7 507.9M165.1 463.1L162.3 462.9M117.0 508.2L116.2 508.3M117.0 508.2L116.7 507.9M167.9 463.3L165.1 463.1M170.7 463.4L167.9 463.3M173.6 463.6L170.7 463.4M176.5 463.7L173.6 463.6M179.4 463.8L176.5 463.7M180.5 463.8L179.4 463.8M180.5 463.8L182.2 463.9M185.1 464.1L182.2 463.9M188.0 464.2L185.1 464.1M190.9 464.3L188.0 464.2M193.8 464.4L190.9 464.3M196.7 464.6L193.8 464.4M197.8 464.6L196.7 464.6M197.8 464.6L199.6 464.7M202.5 464.8L199.6 464.7M205.5 464.9L202.5 464.8M208.4 465.0L205.5 464.9M211.3 465.1L208.4 465.0M213.2 465.1L211.3 465.1M213.2 465.1L214.2 465.2M217.2 465.3L214.2 465.2M220.1 465.4L217.2 465.3M223.0 465.5L220.1 465.4M226.0 465.6L223.0 465.5M228.7 465.7L226.0 465.6M228.7 465.7L228.9 465.7M231.8 465.8L228.9 465.7M234.7 465.9L231.8 465.8M237.6 466.1L234.7 465.9M240.5 466.2L237.6 466.1M243.4 466.3L240.5 466.2M198.3 521.1L196.7 519.5M196.7 519.5L200.6 518.4M246.3 466.5L243.4 466.3M202.2 520.3L198.3 521.1M202.2 520.3L200.6 518.4M246.8 466.5L246.3 466.5M246.8 466.5L249.3 466.6M252.2 466.8L249.3 466.6M255.1 466.9L252.2 466.8M258.0 467.1L255.1 466.9M260.9 467.2L258.0 467.1M263.8 467.4L260.9 467.2M266.7 467.6L263.8 467.4M267.1 467.6L266.7 467.6M267.1 467.6L269.6 467.8M272.4 468.0L269.6 467.8M275.3 468.2L272.4 468.0M278.2 468.3L275.3 468.2M281.1 468.6L278.2 468.3M283.9 468.9L281.1 468.6M286.7 469.2L283.9 468.9M289.5 469.5L286.7 469.2M292.4 469.8L289.5 469.5M295.2 470.1L292.4 469.8M298.0 470.4L295.2 470.1M300.9 470.7L298.0 470.4M303.7 471.0L300.9 470.7M306.6 471.3L303.7 471.0M309.4 471.6L306.6 471.3M312.3 471.9L309.4 471.6M315.1 472.2L312.3 471.9M317.2 472.4L315.1 472.2M317.2 472.4L318.0 472.5M320.8 472.8L318.0 472.5M323.7 473.1L320.8 472.8M326.6 473.5L323.7 473.1"/><path stroke="#A5A5A5" d="M105.4 457.7L107.5 451.5 110.3 442.0 111.1 439.8M108.1 457.9L111.5 447.5 112.9 442.6 113.8 440.0M110.8 458.1L114.0 448.0 115.4 443.1 116.4 440.3M113.4 458.3L115.2 453.0 118.0 443.6 119.1 440.5M116.0 458.8L119.2 449.1 120.6 444.1 121.6 440.9M118.7 459.0L121.8 449.6 123.1 444.6 124.3 441.0M121.4 459.2L124.3 450.1 125.7 445.2 126.9 441.4M124.1 459.3L126.9 450.6 129.6 441.6M126.7 459.8L129.5 451.1 132.1 442.0M129.4 460.0L132.1 451.6 134.8 442.1M132.1 460.1L134.7 452.1 137.4 442.5M134.8 460.6L137.3 452.6 140.0 442.9M137.5 460.7L139.9 453.1 142.7 443.0M140.1 461.2L142.5 453.6 145.4 443.2M142.8 461.4L145.1 454.1 148.0 443.5M145.5 461.7L147.7 454.8 150.9 443.6M148.4 461.7L151.7 451.0 153.7 443.8M151.1 462.1L154.3 451.8 156.5 444.0M153.9 462.2L156.9 452.6 159.4 443.9M156.8 462.2L159.6 453.4 162.2 444.0M159.6 462.5L162.2 454.1 164.9 444.3M162.3 462.9L164.8 454.8 167.7 444.4M116.2 508.3L116.3 505.5 116.7 507.9M165.2 462.8L167.5 455.5 170.5 444.6M167.9 463.2L170.1 456.2 173.4 444.8M170.7 463.4L174.1 452.7 176.3 445.0M173.7 463.2L176.7 453.7 179.2 445.0M176.6 463.4L179.4 454.7 182.0 445.1M179.5 463.5L182.0 455.5 184.9 445.2M182.3 463.7L184.7 456.4 187.9 445.2M185.2 463.8L188.6 453.1 190.9 445.0M188.1 463.9L191.3 454.1 193.8 445.3M191.0 464.0L193.9 455.0 196.6 445.4M193.9 464.2L196.6 455.8 199.6 445.5M196.8 464.3L199.3 456.7 202.6 445.3M199.7 464.5L203.2 453.5 205.6 445.3M202.6 464.7L205.9 454.4 208.3 445.8M205.5 464.9L208.5 455.3 211.2 445.7M208.5 464.7L211.2 456.1 214.2 445.7M211.4 464.9L213.9 456.9 217.2 445.8M214.3 465.1L217.8 453.8 220.1 445.9M217.3 465.0L220.5 454.7 222.9 445.9M220.2 465.2L223.2 455.6 225.9 445.9M223.1 465.3L225.9 456.4 228.9 445.9M226.0 465.5L228.6 457.2 231.8 446.2M229.0 465.4L234.8 446.1M231.9 465.5L235.1 454.9 237.5 446.4M234.7 465.9L237.8 455.7 240.5 446.3M237.6 466.0L243.4 446.5M240.5 466.2L246.4 446.5M243.5 466.3L249.3 446.8M198.3 521.0L198.6 505.6M200.3 503.9L200.6 518.6M246.4 466.4L252.1 446.8M249.3 466.5L255.0 446.9M252.2 466.6L258.1 446.8M255.1 466.7L261.0 447.0M258.1 466.8L263.9 447.0M260.9 467.1L266.7 447.3M263.8 467.2L269.5 447.6M266.7 467.5L272.4 447.7M269.6 467.5L275.2 448.0M272.5 467.9L278.0 448.1M275.4 467.9L280.3 450.7 281.0 448.0M278.3 468.2L283.1 451.4 283.8 448.4M281.1 468.5L286.6 448.7M284.0 468.6L289.5 448.8M286.8 469.0L292.3 449.2M289.6 469.2L295.1 449.6M292.4 469.7L297.8 450.0M295.3 469.8L300.6 450.5M298.1 470.2L303.4 450.9M300.9 470.6L306.1 451.3M303.8 470.7L308.9 451.8M306.6 471.2L311.7 452.2M309.4 471.6L312.5 460.4 314.5 452.7M312.3 471.7L315.3 460.9 317.3 453.1M315.1 472.1L318.1 461.4 320.1 453.6M318.1 472.2L320.9 461.9 322.8 454.0M320.9 472.7L323.7 462.4 325.6 454.5M323.7 473.1L326.5 462.9 328.5 455.0M326.7 473.2L329.3 463.4 331.3 455.4M115.9 507.9L116.3 505.5 117.0 508.2M196.7 519.5L197.4 504.5M201.5 505.4L202.2 520.4M106.1 455.9L127.1 459.9M107.5 451.5L143.8 458.5 160.2 462.7M108.9 447.0L126.9 450.6 145.1 454.1 168.8 460.4 180.8 463.9M110.3 442.0L146.5 449.4 159.6 453.4 170.1 456.2 183.4 460.3 198.0 464.7M140.3 442.9L147.8 444.4 171.4 451.8 179.4 454.7 184.7 456.4 213.3 465.1M164.8 444.6L172.7 447.0 188.6 453.1 193.9 455.0 228.9 465.7M181.3 445.2L197.9 451.6 208.5 455.3 230.1 461.9 247.0 466.6M194.5 445.5L196.4 446.1 209.8 451.0 223.2 455.6 231.3 458.0 255.7 464.8 267.3 467.7M208.6 445.9L221.7 450.5 232.4 454.1 240.5 456.5 259.6 461.7 278.8 466.3 281.6 466.9 317.3 472.5M222.2 446.1L233.6 450.0 252.5 455.7 260.7 457.9 279.9 462.5 296.5 465.4 327.4 470.3M236.1 446.4L259.1 453.4 280.9 458.6 300.3 462.1 328.4 466.9M251.4 446.9L262.9 450.3 282.0 455.0 329.3 463.4M267.4 447.5L283.1 451.4 285.8 451.9 330.3 459.5M292.0 449.1L331.3 455.4M113.7 440.2L111.1 440.0M116.3 440.5L113.7 440.2M119.0 440.7L116.3 440.5M121.6 441.0L119.0 440.7M124.2 441.2L121.6 441.0M126.9 441.5L124.2 441.2M129.5 441.7L126.9 441.5M132.1 442.0L129.5 441.7M134.8 442.3L132.1 442.0M137.4 442.6L134.8 442.3M140.0 442.9L137.4 442.6M140.0 442.9L140.0 442.9M140.0 442.9L142.7 443.1M145.3 443.4L142.7 443.1M148.0 443.7L145.3 443.4M150.8 443.8L148.0 443.7M153.6 443.9L150.8 443.8M156.5 444.0L153.6 443.9M159.3 444.1L156.5 444.0M162.1 444.3L159.3 444.1M164.5 444.5L162.1 444.3M164.5 444.5L164.8 444.5M167.6 444.7L164.8 444.5M170.5 444.8L167.6 444.7M173.3 445.0L170.5 444.8M176.3 445.0L173.3 445.0M179.2 445.1L176.3 445.0M181.0 445.2L179.2 445.1M181.0 445.2L182.0 445.2M184.9 445.3L182.0 445.2M187.9 445.3L184.9 445.3M190.9 445.3L187.9 445.3M193.8 445.4L190.9 445.3M194.3 445.4L193.8 445.4M194.3 445.4L196.6 445.5M199.5 445.6L196.6 445.5M202.5 445.6L199.5 445.6M205.5 445.6L202.5 445.6M208.3 445.8L205.5 445.6M208.4 445.8L208.3 445.8M208.4 445.8L211.2 445.9M214.1 445.9L211.2 445.9M217.1 445.9L214.1 445.9M220.1 446.0L217.1 445.9M222.1 446.1L220.1 446.0M222.1 446.1L222.9 446.1M225.8 446.2L222.9 446.1M228.8 446.3L225.8 446.2M231.8 446.3L228.8 446.3M234.7 446.3L231.8 446.3M236.0 446.4L234.7 446.3M236.0 446.4L237.5 446.5M240.4 446.6L237.5 446.5M243.4 446.7L240.4 446.6M246.3 446.7L243.4 446.7M249.3 446.8L246.3 446.7M198.6 505.8L197.4 504.6M197.4 504.6L200.3 503.8M251.1 446.9L249.3 446.8M251.1 446.9L252.1 446.9M201.5 505.2L198.6 505.8M201.5 505.2L200.3 503.8M255.0 447.0L252.1 446.9M258.0 447.1L255.0 447.0M260.9 447.1L258.0 447.1M263.8 447.2L260.9 447.1M266.7 447.4L263.8 447.2M267.2 447.4L266.7 447.4M267.2 447.4L269.5 447.6M272.3 447.8L269.5 447.6M275.2 448.0L272.3 447.8M278.0 448.2L275.2 448.0M280.9 448.4L278.0 448.2M283.8 448.5L280.9 448.4M286.6 448.7L283.8 448.5M289.5 448.9L286.6 448.7M291.8 449.0L289.5 448.9"/><path stroke="#FFC000" d="M111.1 439.8L111.7 438.2 113.1 433.2 114.9 423.6M113.8 440.0L114.3 438.6 115.7 433.5 117.5 423.8M116.4 440.3L116.8 439.1 118.2 433.8 119.9 424.2M119.1 440.5L120.8 434.2 122.5 424.4M121.6 440.9L123.3 434.7 125.0 424.8M124.3 441.0L125.9 435.1 127.5 425.3M126.9 441.4L128.4 435.5 130.1 425.6M129.6 441.6L131.0 435.9 132.6 425.8M132.1 442.0L133.6 436.3 135.2 426.0M134.8 442.1L136.2 436.7 137.7 426.5M137.4 442.5L138.7 437.2 140.3 426.7M140.0 442.9L141.3 437.6 142.8 427.0M142.7 443.0L143.9 438.1 145.4 427.5M145.4 443.2L146.5 438.7 148.0 427.6M148.0 443.5L149.1 439.3 150.7 427.9M150.9 443.6L151.7 440.4 153.0 432.0 153.4 428.2M153.7 443.8L154.4 441.4 155.6 433.4 156.2 428.2M156.5 444.0L157.0 442.4 158.2 434.9 159.0 428.3M159.4 443.9L160.9 436.3 161.8 428.7M162.2 444.0L163.5 437.7 164.6 428.7M164.9 444.3L166.1 439.0 167.5 428.8M167.7 444.4L168.8 440.3 170.3 428.9M170.5 444.6L171.4 441.5 172.6 433.4 173.1 428.9M173.4 444.8L174.0 442.6 175.3 435.1 176.0 429.2M176.3 445.0L176.7 443.7 177.9 436.9 178.9 429.2M179.2 445.0L180.6 438.8 181.9 429.3M182.0 445.1L183.2 440.5 184.8 429.2M184.9 445.2L185.8 442.0 187.1 434.4 187.7 429.3M187.9 445.2L188.5 443.3 189.7 436.4 190.6 429.5M190.9 445.0L192.4 438.1 193.6 429.3M193.8 445.3L195.0 439.8 196.5 429.4M196.6 445.4L197.7 441.4 198.9 433.5 199.4 429.4M199.6 445.5L200.3 442.8 201.6 435.5 202.3 429.7M202.6 445.3L203.0 444.0 204.2 437.3 205.2 429.8M205.6 445.3L206.9 439.0 208.1 429.8M208.3 445.8L209.5 440.5 211.0 429.8M211.2 445.7L212.2 442.0 213.4 434.1 213.9 430.0M214.2 445.7L214.9 443.4 216.1 436.0 216.8 429.9M217.2 445.8L217.5 444.6 218.7 437.8 219.7 430.1M220.1 445.9L221.4 439.6 222.7 430.0M222.9 445.9L224.1 441.2 225.6 430.1M225.9 445.9L226.7 442.7 227.9 434.9 228.5 430.1M228.9 445.9L229.4 444.1 230.6 437.0 231.4 430.2M231.8 446.2L232.1 445.2 233.3 438.9 234.4 430.4M234.8 446.1L235.9 440.7 237.4 430.4M237.5 446.4L238.6 442.2 239.8 434.7 240.3 430.3M240.5 446.3L241.3 443.4 242.5 436.3 243.2 430.6M243.4 446.5L244.0 444.6 245.1 438.0 246.1 430.6M246.4 446.5L246.7 445.6 247.8 439.6 249.0 431.2M249.3 446.8L250.5 441.1 251.7 433.2M198.6 505.6L198.8 490.2M199.9 489.2L200.3 503.9M252.1 446.8L253.2 442.6 254.3 435.3M255.0 446.9L255.9 443.9 257.0 437.3M258.1 446.8L258.6 445.1 259.7 439.3M261.0 447.0L261.3 446.0 262.4 440.3M263.9 447.0L265.1 441.1M266.7 447.3L267.8 442.0M269.5 447.6L270.5 442.9M272.4 447.7L273.2 443.8M275.2 448.0L275.9 444.7M278.0 448.1L278.7 445.6M281.0 448.0L281.4 446.4M283.8 448.4L284.1 447.1M286.6 448.7L286.9 447.8M289.5 448.8L289.6 448.4M197.4 504.5L198.0 489.5M200.7 490.1L201.5 505.4M111.7 438.2L140.3 442.9M113.1 433.2L118.2 433.8 136.2 436.7 146.5 438.7 149.1 439.3 154.4 441.4 159.6 443.3 162.2 444.0 164.8 444.6M114.4 426.6L119.5 426.9 132.3 428.3 137.4 428.6 142.6 429.1 147.8 430.0 150.4 430.6 160.9 436.3 168.8 440.3 176.7 443.7 179.3 444.7 181.3 445.2M166.3 429.1L175.3 435.1 180.6 438.8 183.2 440.5 188.5 443.3 191.1 444.4 194.5 445.5M181.3 429.6L184.4 432.3 189.7 436.4 195.0 439.8 200.3 442.8 203.0 444.0 205.7 445.0 208.6 445.9M194.1 429.7L201.6 435.5 204.2 437.3 209.5 440.5 214.9 443.4 217.5 444.6 220.2 445.6 222.2 446.1M207.8 429.9L213.4 434.1 218.7 437.8 224.1 441.2 229.4 444.1 232.1 445.2 236.1 446.4M222.3 430.4L230.6 437.0 235.9 440.7 238.6 442.2 244.0 444.6 246.7 445.6 249.4 446.4 251.4 446.9M234.9 430.5L237.1 432.5 239.8 434.7 247.8 439.6 253.2 442.6 258.6 445.1 264.0 446.7 267.4 447.5M248.5 430.8L259.7 439.3 278.7 445.6 292.0 449.1M117.4 424.1L114.9 423.7M119.9 424.4L117.4 424.1M122.4 424.7L119.9 424.4M125.0 425.0L122.4 424.7M127.5 425.4L125.0 425.0M130.1 425.7L127.5 425.4M132.6 426.0L130.1 425.7M135.1 426.3L132.6 426.0M137.7 426.6L135.1 426.3M140.2 427.0L137.7 426.6M142.8 427.3L140.2 427.0M145.4 427.6L142.8 427.3M148.0 427.8L145.4 427.6M150.6 428.1L148.0 427.8M153.4 428.3L150.6 428.1M156.2 428.5L153.4 428.3M159.0 428.6L156.2 428.5M161.8 428.7L159.0 428.6M164.6 428.9L161.8 428.7M166.1 428.9L164.6 428.9M166.1 428.9L167.5 429.0M170.3 429.1L167.5 429.0M173.1 429.2L170.3 429.1M176.0 429.3L173.1 429.2M178.9 429.4L176.0 429.3M181.1 429.4L178.9 429.4M181.1 429.4L181.9 429.4M184.8 429.4L181.9 429.4M187.7 429.5L184.8 429.4M190.6 429.5L187.7 429.5M193.6 429.6L190.6 429.5M194.0 429.6L193.6 429.6M194.0 429.6L196.5 429.6M199.4 429.7L196.5 429.6M202.3 429.8L199.4 429.7M205.2 429.8L202.3 429.8M207.8 429.9L205.2 429.8M207.8 429.9L208.1 429.9M211.0 430.0L208.1 429.9M213.9 430.1L211.0 430.0M216.8 430.2L213.9 430.1M219.7 430.2L216.8 430.2M222.1 430.3L219.7 430.2M222.1 430.3L222.6 430.3M225.5 430.3L222.6 430.3M228.5 430.4L225.5 430.3M231.4 430.4L228.5 430.4M234.4 430.4L231.4 430.4M234.9 430.4L234.4 430.4M234.9 430.4L237.4 430.5M240.3 430.5L237.4 430.5M243.2 430.6L240.3 430.5M246.1 430.7L243.2 430.6M248.3 430.7L246.1 430.7M198.8 490.5L198.0 489.7M198.0 489.7L199.9 489.2M200.7 490.1L198.8 490.5M200.7 490.1L199.9 489.2"/><path stroke="#5B9BD5" d="M114.9 423.6L117.2 408.6M117.5 423.8L119.6 409.1M119.9 424.2L122.1 409.3M122.5 424.4L124.5 409.8M125.0 424.8L127.0 409.9M127.5 425.3L129.5 410.3M130.1 425.6L131.9 410.7M132.6 425.8L134.4 411.3M135.2 426.0L136.9 411.6M137.7 426.5L139.3 412.0M140.3 426.7L141.9 412.2M142.8 427.0L144.4 412.5M145.4 427.5L147.0 412.7M148.0 427.6L149.5 413.1M150.7 427.9L152.1 413.5M153.4 428.2L154.9 413.5M156.2 428.2L157.7 413.6M159.0 428.3L160.5 413.9M161.8 428.7L163.3 413.9M164.6 428.7L166.1 414.2M167.5 428.8L168.9 414.1M170.3 428.9L171.8 414.4M173.1 428.9L174.7 414.5M176.0 429.2L177.6 414.5M178.9 429.2L180.5 414.5M181.9 429.3L183.5 414.4M184.8 429.2L186.4 414.7M187.7 429.3L189.3 414.7M190.6 429.5L192.3 414.5M193.6 429.3L195.2 414.7M196.5 429.4L198.1 414.9M199.4 429.4L201.0 415.0M202.3 429.7L204.0 415.0M205.2 429.8L206.8 414.9M208.1 429.8L209.7 415.2M211.0 429.8L212.6 415.2M213.9 430.0L215.5 415.3M216.8 429.9L218.4 415.1M219.7 430.1L221.3 415.4M222.7 430.0L224.2 415.3M225.6 430.1L227.1 415.5M228.5 430.1L230.1 415.4M231.4 430.2L233.0 416.2M234.4 430.4L235.7 419.3M237.4 430.4L238.3 422.5M240.3 430.3L241.0 425.2M243.2 430.6L243.6 427.2M246.1 430.6L246.3 429.2M198.8 490.2L199.1 474.9M199.6 474.9L199.9 489.2M198.0 489.5L198.7 474.5M200.0 475.2L200.7 490.1M115.7 419.0L120.8 418.7 133.6 418.9 138.7 418.5 143.8 418.4 149.0 418.9 151.6 419.4 156.8 422.7 166.3 429.1M117.0 410.3L121.7 409.4M163.8 414.3L165.9 416.0 176.5 425.1 181.3 429.6M179.0 414.7L183.0 419.3 185.7 421.9 191.0 427.0 194.1 429.7M191.3 414.9L194.8 418.5 200.1 423.6 202.8 425.9 207.8 429.9M204.5 415.0L212.0 421.6 222.3 430.4M219.7 415.6L234.9 430.5M232.8 415.9L238.3 422.5 241.0 425.2 248.5 430.8M119.6 409.2L117.2 408.8M122.0 409.5L121.5 409.5M121.5 409.5L119.6 409.2M124.5 409.9L122.0 409.5M127.0 410.2L124.5 409.9M129.4 410.6L127.0 410.2M131.9 410.9L129.4 410.6M134.4 411.3L131.9 410.9M136.9 411.6L134.4 411.3M139.3 412.0L136.9 411.6M141.8 412.4L139.3 412.0M144.4 412.7L141.8 412.4M146.9 413.0L144.4 412.7M149.5 413.3L146.9 413.0M152.1 413.6L149.5 413.3M154.9 413.8L152.1 413.6M157.7 413.9L154.9 413.8M160.5 414.1L157.7 413.9M163.3 414.2L160.5 414.1M163.7 414.2L163.3 414.2M163.7 414.2L166.1 414.3M168.9 414.4L166.1 414.3M171.8 414.5L168.9 414.4M174.6 414.6L171.8 414.5M177.6 414.7L174.6 414.6M179.0 414.7L177.6 414.7M179.0 414.7L180.5 414.7M183.5 414.7L180.5 414.7M186.4 414.8L183.5 414.7M189.3 414.8L186.4 414.8M191.2 414.8L189.3 414.8M191.2 414.8L192.3 414.8M195.2 414.9L192.3 414.8M198.1 414.9L195.2 414.9M201.0 415.0L198.1 414.9M203.9 415.0L201.0 415.0M204.5 415.0L203.9 415.0M204.5 415.0L206.8 415.1M209.7 415.2L206.8 415.1M212.6 415.3L209.7 415.2M215.5 415.4L212.6 415.3M218.4 415.5L215.5 415.4M219.5 415.5L218.4 415.5M219.5 415.5L221.3 415.5M224.2 415.6L221.3 415.5M227.1 415.6L224.2 415.6M230.1 415.7L227.1 415.6M232.6 415.7L230.1 415.7M199.0 475.2L198.7 474.8M198.7 474.8L199.6 474.6M200.0 475.0L199.0 475.2M200.0 475.0L199.6 474.6"/><path stroke="#70AD47" d="M117.2 408.6L119.1 393.9M119.6 409.1L121.4 394.4M122.1 409.3L123.7 395.0M124.5 409.8L126.2 395.1M127.0 409.9L128.6 395.6M129.5 410.3L131.0 396.0M131.9 410.7L133.5 396.4M134.4 411.3L135.9 396.5M136.9 411.6L138.3 397.1M139.3 412.0L140.7 397.6M141.9 412.2L143.2 397.7M144.4 412.5L145.7 398.1M147.0 412.7L148.2 398.7M149.5 413.1L150.7 398.9M152.1 413.5L153.3 399.0M154.9 413.5L156.1 399.1M157.7 413.6L158.8 399.6M160.5 413.9L161.7 399.4M163.3 413.9L164.5 399.7M166.1 414.2L167.3 399.9M168.9 414.1L170.1 400.0M171.8 414.4L173.0 400.0M174.7 414.5L175.9 399.9M177.6 414.5L178.9 399.9M180.5 414.5L181.8 400.2M183.5 414.4L184.8 400.2M186.4 414.7L187.7 400.2M189.3 414.7L190.7 400.2M192.3 414.5L193.6 400.1M195.2 414.7L196.5 400.3M198.1 414.9L199.5 400.4M201.0 415.0L202.4 400.5M204.0 415.0L205.3 400.4M206.8 414.9L208.2 400.6M209.7 415.2L211.1 400.6M212.6 415.2L213.9 400.8M215.5 415.3L216.8 400.8M218.4 415.1L219.7 401.1M221.3 415.4L222.4 404.1M224.2 415.3L225.0 407.1M227.1 415.5L227.7 410.0M230.1 415.4L230.3 413.0M199.1 474.9L199.3 460.2 199.6 474.9M198.7 474.5L199.3 460.2 200.0 475.2M121.7 409.4L134.8 408.1 139.9 406.9 145.0 405.9 150.2 405.9 152.8 406.2 158.0 409.8 163.8 414.3M118.3 400.8L123.3 399.1 134.4 396.6M164.7 399.9L167.1 402.0 175.1 410.3 179.0 414.7M179.5 400.4L184.2 406.8 191.3 414.9M191.1 400.4L193.4 403.2 196.0 406.1 201.3 411.9 204.5 415.0M204.3 400.8L205.2 401.8 219.7 415.6M219.7 401.1L230.3 413.0 232.8 415.9M121.4 394.6L119.0 394.2M123.7 395.0L121.4 394.6M126.1 395.4L123.7 395.0M128.6 395.7L126.1 395.4M131.0 396.1L128.6 395.7M133.4 396.5L131.0 396.1M135.9 396.8L134.3 396.6M134.3 396.6L133.4 396.5M138.3 397.2L135.9 396.8M140.7 397.6L138.3 397.2M143.2 398.0L140.7 397.6M145.6 398.4L143.2 398.0M148.2 398.7L145.6 398.4M150.7 399.0L148.2 398.7M153.3 399.3L150.7 399.0M156.1 399.4L153.3 399.3M158.8 399.6L156.1 399.4M161.6 399.7L158.8 399.6M164.5 399.9L161.6 399.7M164.7 399.9L164.5 399.9M164.7 399.9L167.3 400.0M170.1 400.1L167.3 400.0M173.0 400.2L170.1 400.1M175.9 400.2L173.0 400.2M178.8 400.3L175.9 400.2M179.4 400.3L178.8 400.3M179.4 400.3L181.8 400.3M184.8 400.3L181.8 400.3M187.7 400.3L184.8 400.3M190.7 400.3L187.7 400.3M191.1 400.3L190.7 400.3M191.1 400.3L193.6 400.3M196.5 400.4L193.6 400.3M199.4 400.5L196.5 400.4M202.4 400.5L199.4 400.5M204.1 400.5L202.4 400.5M204.1 400.5L205.3 400.5M208.2 400.6L205.3 400.5M211.0 400.7L208.2 400.6M213.9 400.8L211.0 400.7M216.8 400.9L213.9 400.8M219.6 401.0L216.8 400.9"/><path stroke="#264478" d="M119.1 393.9L120.7 379.5M121.4 394.4L122.9 380.1M123.7 395.0L125.2 380.4M126.2 395.1L127.6 380.8M128.6 395.6L130.0 381.2M131.0 396.0L132.4 381.6M133.5 396.4L134.8 382.1M135.9 396.5L137.2 382.4M138.3 397.1L139.6 382.8M140.7 397.6L141.9 383.0M143.2 397.7L144.3 383.5M145.7 398.1L146.8 384.1M148.2 398.7L149.3 384.3M150.7 398.9L151.8 384.7M153.3 399.0L154.4 384.9M156.1 399.1L157.1 384.9M158.8 399.6L159.9 385.1M161.7 399.4L162.7 385.4M164.5 399.7L165.5 385.5M167.3 399.9L168.3 385.7M170.1 400.0L171.2 385.8M173.0 400.0L174.1 385.5M175.9 399.9L177.0 385.6M178.9 399.9L180.0 385.9M181.8 400.2L183.0 385.7M184.8 400.2L186.0 385.6M187.7 400.2L188.9 385.7M190.7 400.2L191.9 385.7M193.6 400.1L194.8 385.7M196.5 400.3L197.7 385.9M199.5 400.4L200.7 385.9M202.4 400.5L203.6 386.0M205.3 400.4L206.4 387.6M208.2 400.6L209.1 390.3M211.1 400.6L211.7 393.0M213.9 400.8L214.4 395.7M216.8 400.8L217.0 398.4M134.4 396.6L136.0 396.2 141.1 393.8 146.2 391.9 148.8 391.5 151.3 391.3 153.9 391.4 159.2 395.1 164.7 399.9M119.5 390.5L124.5 387.9 132.1 385.1 137.1 383.1 138.0 382.5M167.8 385.9L173.6 392.8 179.5 400.4M181.0 386.0L185.4 392.9 191.1 400.4M192.5 386.2L194.6 389.2 204.3 400.8M205.4 386.3L206.4 387.6 219.7 401.1M122.9 380.2L120.7 379.7M125.2 380.6L122.9 380.2M127.6 381.0L125.2 380.6M130.0 381.4L127.6 381.0M132.4 381.8L130.0 381.4M134.8 382.1L132.4 381.8M137.2 382.5L134.8 382.1M139.5 382.9L137.8 382.6M137.8 382.6L137.2 382.5M141.9 383.4L139.5 382.9M144.3 383.7L141.9 383.4M146.8 384.1L144.3 383.7M149.3 384.4L146.8 384.1M151.8 384.8L149.3 384.4M154.4 385.0L151.8 384.8M157.1 385.2L154.4 385.0M159.9 385.4L157.1 385.2M162.7 385.5L159.9 385.4M165.5 385.6L162.7 385.5M167.6 385.7L165.5 385.6M167.6 385.7L168.3 385.7M171.2 385.8L168.3 385.7M174.1 385.9L171.2 385.8M177.0 385.9L174.1 385.9M180.0 386.0L177.0 385.9M181.0 385.9L180.0 386.0M181.0 385.9L183.0 385.9M185.9 385.9L183.0 385.9M188.9 386.0L185.9 385.9M191.9 386.0L188.9 386.0M192.3 386.0L191.9 386.0M192.3 386.0L194.8 386.0M197.7 386.0L194.8 386.0M200.7 386.1L197.7 386.0M203.6 386.1L200.7 386.1M205.3 386.2L203.6 386.1"/><path stroke="#9E480E" d="M120.7 379.5L122.1 365.4M122.9 380.1L124.3 365.8M125.2 380.4L126.6 366.3M127.6 380.8L128.9 366.6M130.0 381.2L131.2 366.8M132.4 381.6L133.6 367.4M134.8 382.1L136.0 367.7M137.2 382.4L138.4 368.0M139.6 382.8L140.7 368.4M141.9 383.0L143.0 368.9M144.3 383.5L145.4 369.4M146.8 384.1L147.8 369.6M149.3 384.3L150.2 370.2M151.8 384.7L152.8 370.3M154.4 384.9L155.3 370.8M157.1 384.9L158.1 370.7M159.9 385.1L160.8 371.1M162.7 385.4L163.6 371.2M165.5 385.5L166.5 371.3M168.3 385.7L169.3 371.3M171.2 385.8L172.2 371.5M174.1 385.5L175.1 371.4M177.0 385.6L178.0 371.7M180.0 385.9L181.0 371.6M183.0 385.7L184.0 371.6M186.0 385.6L187.0 371.5M188.9 385.7L190.0 371.6M191.9 385.7L193.0 371.7M194.8 385.7L195.8 373.8M197.7 385.9L198.4 377.3M200.7 385.9L201.1 380.8M203.6 386.0L203.7 384.2M138.0 382.5L142.2 379.6 147.3 376.5 149.9 375.7 152.5 375.1 155.1 375.0 160.3 378.8 167.8 385.9M120.7 379.5L125.7 375.9 133.2 371.9 138.3 369.0 139.0 368.3M171.3 371.8L177.4 380.4 181.0 386.0M121.9 367.8L124.1 365.7M183.3 371.8L186.6 377.6 192.5 386.2M194.5 371.9L195.8 373.8 205.4 386.3M124.3 365.9L124.0 365.8M124.0 365.8L122.1 365.4M126.5 366.3L124.3 365.9M128.9 366.7L126.5 366.3M131.2 367.1L128.9 366.7M133.6 367.5L131.2 367.1M136.0 367.9L133.6 367.5M138.3 368.3L136.0 367.9M140.7 368.7L138.9 368.4M138.9 368.4L138.3 368.3M143.0 369.1L140.7 368.7M145.4 369.5L143.0 369.1M147.8 369.9L145.4 369.5M150.2 370.3L147.8 369.9M152.8 370.6L150.2 370.3M155.3 370.9L152.8 370.6M158.1 371.0L155.3 370.9M160.8 371.2L158.1 371.0M163.6 371.3L160.8 371.2M166.4 371.4L163.6 371.3M169.3 371.6L166.4 371.4M171.1 371.6L169.3 371.6M171.1 371.6L172.2 371.6M175.1 371.7L172.2 371.6M178.0 371.7L175.1 371.7M181.0 371.7L178.0 371.7M183.2 371.7L181.0 371.7M183.2 371.7L184.0 371.7M187.0 371.7L184.0 371.7M190.0 371.7L187.0 371.7M192.9 371.7L190.0 371.7M194.4 371.7L192.9 371.7"/><path stroke="#636363" d="M122.1 365.4L123.0 355.4M124.3 365.8L125.5 352.6M126.6 366.3L127.8 352.1M128.9 366.6L130.1 352.4M131.2 366.8L132.4 352.8M133.6 367.4L134.7 353.0M136.0 367.7L137.1 353.5M138.4 368.0L139.4 353.9M140.7 368.4L141.7 354.3M143.0 368.9L144.0 354.8M145.4 369.4L146.3 355.0M147.8 369.6L148.7 355.7M150.2 370.2L151.2 355.8M152.8 370.3L153.7 356.2M155.3 370.8L156.2 356.4M158.1 370.7L159.0 356.6M160.8 371.1L161.7 356.9M163.6 371.2L164.5 357.0M166.5 371.3L167.3 357.0M169.3 371.3L170.2 357.1M172.2 371.5L173.1 357.2M175.1 371.4L176.0 357.2M178.0 371.7L178.9 357.4M181.0 371.6L182.0 357.4M184.0 371.6L185.0 357.4M187.0 371.5L187.8 361.1M190.0 371.6L190.4 365.4M193.0 371.7L193.1 369.6M139.0 368.3L143.3 364.1 148.4 359.8 151.0 358.5 153.6 357.5 156.2 357.1 161.5 361.0 169.4 369.2 171.3 371.8M124.1 365.7L126.8 363.2 131.9 359.7 139.4 353.9M175.0 357.5L178.6 363.3 183.3 371.8M123.0 355.4L126.4 351.5M185.9 357.5L187.8 361.1 194.5 371.9M127.8 352.1L126.2 351.8M130.1 352.5L127.8 352.1M132.4 352.9L130.1 352.5M134.7 353.3L132.4 352.9M137.1 353.7L134.7 353.3M139.4 354.1L139.3 354.1M139.3 354.1L137.1 353.7M141.7 354.5L139.4 354.1M144.0 355.0L141.7 354.5M146.3 355.4L144.0 355.0M148.7 355.8L146.3 355.4M151.2 356.1L148.7 355.8M153.7 356.4L151.2 356.1M156.2 356.7L153.7 356.4M159.0 356.9L156.2 356.7M161.7 357.0L159.0 356.9M164.5 357.1L161.7 357.0M167.3 357.3L164.5 357.1M170.1 357.4L167.3 357.3M173.1 357.4L170.1 357.4M175.0 357.4L173.1 357.4M175.0 357.4L176.0 357.5M178.9 357.5L176.0 357.5M182.0 357.5L178.9 357.5M185.0 357.4L182.0 357.5M185.8 357.4L185.0 357.4"/><path stroke="#997300" d="M127.8 352.1L128.0 349.7M130.1 352.4L130.5 347.5M132.4 352.8L133.0 345.3M134.7 353.0L135.5 342.9M137.1 353.5L138.0 340.4M139.4 353.9L140.4 339.7M141.7 354.3L142.7 340.1M144.0 354.8L144.9 340.7M146.3 355.0L147.2 340.9M148.7 355.7L149.6 341.6M151.2 355.8L152.0 341.9M153.7 356.2L154.5 342.1M156.2 356.4L157.0 342.4M159.0 356.6L159.8 342.6M161.7 356.9L162.5 342.8M164.5 357.0L165.3 342.8M167.3 357.0L168.1 343.0M170.2 357.1L171.0 343.0M173.1 357.2L173.9 342.9M176.0 357.2L176.9 343.0M178.9 357.4L179.7 344.9M182.0 357.4L182.4 350.5M185.0 357.4L185.1 356.0M139.4 353.9L141.9 350.9 144.5 347.6 149.5 341.9 150.1 341.5M163.8 343.1L170.6 350.6 175.0 357.5M126.4 351.5L128.0 349.7 133.0 345.3 138.9 339.5M178.9 343.5L185.9 357.5M140.4 339.9L138.8 339.6M142.6 340.4L140.4 339.9M144.9 340.8L142.6 340.4M147.2 341.2L144.9 340.8M149.6 341.6L147.2 341.2M152.0 341.9L149.9 341.7M149.9 341.7L149.6 341.6M154.5 342.3L152.0 341.9M157.0 342.5L154.5 342.3M159.8 342.7L157.0 342.5M162.5 342.9L159.8 342.7M163.6 342.9L162.5 342.9M163.6 342.9L165.3 343.0M168.1 343.1L165.3 343.0M171.0 343.2L168.1 343.1M173.9 343.2L171.0 343.2M176.9 343.3L173.9 343.2M178.8 343.3L176.9 343.3"/><path stroke="#255E91" d="M140.4 339.7L140.5 337.9M142.7 340.1L143.0 334.1M144.9 340.7L145.6 330.0M147.2 340.9L148.1 326.7M149.6 341.6L150.4 327.4M152.0 341.9L152.8 327.7M154.5 342.1L155.3 327.9M157.0 342.4L157.8 328.1M159.8 342.6L160.5 328.3M162.5 342.8L163.3 328.5M165.3 342.8L166.1 328.7M168.1 343.0L168.9 328.7M171.0 343.0L171.7 330.6M173.9 342.9L174.4 335.3M176.9 343.0L177.1 339.9M150.1 341.5L152.1 340.1 154.7 338.7 157.3 337.9 162.6 341.8 163.8 343.1M138.9 339.5L140.5 337.9 143.0 334.1 145.6 330.0 147.7 326.9M170.5 329.1L171.7 330.6 177.1 339.9 178.9 343.5M148.0 327.1L147.7 327.0M150.4 327.4L148.0 327.1M152.8 327.8L150.4 327.4M155.3 328.1L152.8 327.8M157.8 328.4L155.3 328.1M160.5 328.5L157.8 328.4M163.3 328.7L160.5 328.5M166.1 328.8L163.3 328.7M168.9 328.9L166.1 328.8M170.3 328.9L168.9 328.9"/><path stroke="#43682B" d="M148.1 326.7L148.1 326.4M150.4 327.4L150.6 322.9M152.8 327.7L153.2 320.5M155.3 327.9L155.8 318.5M157.8 328.1L158.4 317.4M160.5 328.3L161.0 319.3M163.3 328.5L163.7 321.2M166.1 328.7L166.3 324.2M168.9 328.7L169.0 327.3M147.7 326.9L150.6 322.9 153.2 320.5 155.8 318.5 158.4 317.4 163.7 321.2 166.3 324.2 170.5 329.1"/></g>
<path fill="none" stroke="#8C8C8C" stroke-width="0.8" d="M125.8 466.9L122.0 311.3M44.1 537.0L125.8 466.9M125.8 466.9L330.0 493.5M330.0 493.5L335.6 328.9"/>
<path fill="none" stroke="#5A5A5A" stroke-width="0.8" d="M44.1 537.0L279.3 573.7M279.3 573.7L330.0 493.5M44.1 537.0l0 2.6M52.5 538.3l0 2.6M61.0 539.6l0 2.6M69.5 541.0l0 2.6M78.1 542.3l0 2.6M86.7 543.7l0 2.6M95.4 545.0l0 2.6M104.1 546.4l0 2.6M112.9 547.7l0 2.6M121.7 549.1l0 2.6M130.5 550.5l0 2.6M139.4 551.9l0 2.6M148.4 553.3l0 2.6M157.4 554.7l0 2.6M166.5 556.1l0 2.6M175.6 557.5l0 2.6M184.7 558.9l0 2.6M194.0 560.4l0 2.6M203.2 561.8l0 2.6M212.5 563.3l0 2.6M221.9 564.7l0 2.6M231.3 566.2l0 2.6M240.8 567.7l0 2.6M250.3 569.2l0 2.6M259.9 570.7l0 2.6M269.6 572.2l0 2.6M279.3 573.7l0 2.6M279.3 573.7l2.6 0M284.6 565.2l2.6 0M289.8 557.0l2.6 0M294.8 549.0l2.6 0M299.7 541.3l2.6 0M304.4 533.9l2.6 0M309.0 526.6l2.6 0M313.4 519.6l2.6 0M317.7 512.8l2.6 0M321.9 506.2l2.6 0M326.0 499.7l2.6 0M330.0 493.5l2.6 0"/>
<g style='font-family:"Liberation Serif",serif;font-weight:bold;font-size:8.8px'><text x="37.5" y="540.0" text-anchor="end">0</text><text x="36.8" y="525.7" text-anchor="end">0.5</text><text x="36.1" y="511.3" text-anchor="end">1</text><text x="35.4" y="496.8" text-anchor="end">1.5</text><text x="34.6" y="482.2" text-anchor="end">2</text><text x="33.9" y="467.4" text-anchor="end">2.5</text><text x="33.2" y="452.5" text-anchor="end">3</text><text x="32.5" y="437.5" text-anchor="end">3.5</text><text x="31.7" y="422.3" text-anchor="end">4</text><text x="31.0" y="407.1" text-anchor="end">4.5</text><text x="30.2" y="391.6" text-anchor="end">5</text><text x="29.5" y="376.1" text-anchor="end">5.5</text><text x="28.7" y="360.4" text-anchor="end">6</text><text x="44.1" y="551.3" text-anchor="middle">65</text><text x="61.0" y="553.9" text-anchor="middle">60</text><text x="78.1" y="556.6" text-anchor="middle">55</text><text x="95.4" y="559.3" text-anchor="middle">50</text><text x="112.9" y="562.0" text-anchor="middle">45</text><text x="130.5" y="564.8" text-anchor="middle">40</text><text x="148.4" y="567.6" text-anchor="middle">35</text><text x="166.5" y="570.4" text-anchor="middle">30</text><text x="184.7" y="573.2" text-anchor="middle">25</text><text x="203.2" y="576.1" text-anchor="middle">20</text><text x="221.9" y="579.0" text-anchor="middle">15</text><text x="240.8" y="582.0" text-anchor="middle">10</text><text x="259.9" y="585.0" text-anchor="middle">5</text><text x="279.3" y="588.0" text-anchor="middle">0</text></g><g style='font-family:"Liberation Serif",serif;font-weight:bold;font-size:7.6px'><text x="285.3" y="577.0">-20</text><text x="290.6" y="568.5">-15</text><text x="295.8" y="560.3">-10</text><text x="300.8" y="552.3">-5</text><text x="305.7" y="544.6">0</text><text x="310.4" y="537.2">5</text><text x="315.0" y="529.9">10</text><text x="319.4" y="522.9">15</text><text x="323.7" y="516.1">20</text><text x="327.9" y="509.5">25</text><text x="332.0" y="501.4">30</text><text x="331.7" y="496.4">35</text></g>
<text transform="translate(11.4 445) rotate(-90)" text-anchor="middle" style='font-family:"Liberation Serif",serif;font-weight:bold;font-size:13.5px'><tspan style="font-style:italic">r</tspan><tspan dy="4.2" style="font-size:9px">e</tspan><tspan dy="-4.2"> (mm)</tspan></text>
<text transform="translate(152 587.6) rotate(3)" text-anchor="middle" style='font-family:"Liberation Serif",serif;font-weight:bold;font-size:13.5px'><tspan style="font-style:italic">r</tspan> (mm)</text>
<text transform="translate(339.4 535.3) rotate(-64)" text-anchor="middle" style='font-family:"Liberation Serif",serif;font-weight:bold;font-size:13.5px'><tspan style="font-style:italic">z</tspan> (mm)</text>
<text x="173.4" y="608.4" text-anchor="middle" style='font-family:"Liberation Sans",sans-serif;font-size:11px'>(b)</text>
</svg></body></html>
